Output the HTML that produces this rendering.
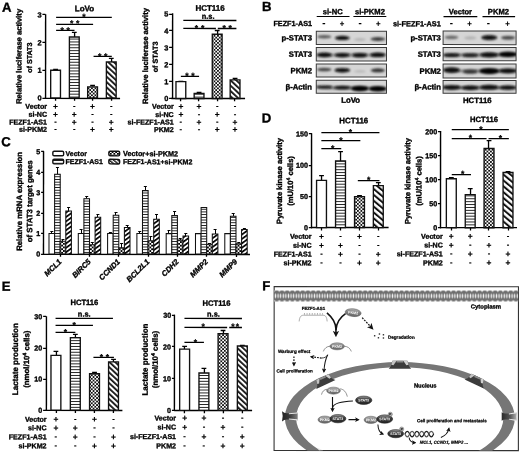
<!DOCTYPE html>
<html lang="en"><head><meta charset="utf-8"><title>Figure</title>
<style>
html,body{margin:0;padding:0;background:#fff;}
body{width:520px;height:454px;overflow:hidden;}
svg{display:block;font-family:"Liberation Sans", sans-serif;filter:blur(0.3px);}
</style></head><body>
<svg width="520" height="454" viewBox="0 0 520 454">
<defs>
<pattern id="ph" width="10" height="2.9" patternUnits="userSpaceOnUse"><rect width="10" height="2.9" fill="#fff"/><rect y="1.0" width="10" height="1.05" fill="#222" shape-rendering="crispEdges"/></pattern>
<pattern id="pc" width="3.5" height="3.5" patternUnits="userSpaceOnUse"><rect width="3.5" height="3.5" fill="#fff"/><rect width="1.75" height="1.75" fill="#111"/><rect x="1.75" y="1.75" width="1.75" height="1.75" fill="#111"/></pattern>
<pattern id="pd" width="4.7" height="4.7" patternUnits="userSpaceOnUse" patternTransform="rotate(-53)"><rect width="4.7" height="4.7" fill="#fff"/><rect width="2.0" height="4.7" fill="#111"/></pattern>
<pattern id="pdD" width="4.5" height="4.5" patternUnits="userSpaceOnUse" patternTransform="rotate(-50)"><rect width="4.5" height="4.5" fill="#fff"/><rect width="2.0" height="4.5" fill="#111"/></pattern>
<pattern id="pdE" width="3.9" height="3.9" patternUnits="userSpaceOnUse" patternTransform="rotate(-47)"><rect width="3.9" height="3.9" fill="#fff"/><rect width="1.8" height="3.9" fill="#111"/></pattern>
<pattern id="phs" width="10" height="2.7" patternUnits="userSpaceOnUse"><rect width="10" height="2.7" fill="#fff"/><rect y="0.8" width="10" height="1.1" fill="#111" shape-rendering="crispEdges"/></pattern>
<pattern id="pcs" width="3.6" height="3.6" patternUnits="userSpaceOnUse"><rect width="3.6" height="3.6" fill="#fff"/><rect width="1.8" height="1.8" fill="#000"/><rect x="1.8" y="1.8" width="1.8" height="1.8" fill="#000"/></pattern>
<pattern id="pds" width="3.56" height="3.56" patternUnits="userSpaceOnUse" patternTransform="rotate(54)"><rect width="3.56" height="3.56" fill="#fff"/><rect width="1.7" height="3.56" fill="#000"/></pattern>
<pattern id="pdl" width="2.8" height="2.8" patternUnits="userSpaceOnUse" patternTransform="rotate(-50)"><rect width="2.8" height="2.8" fill="#fff"/><rect width="1.4" height="2.8" fill="#111"/></pattern>
<filter id="bl" x="-30%" y="-80%" width="160%" height="260%"><feGaussianBlur stdDeviation="1.1 0.8"/></filter>
<filter id="bl2" x="-30%" y="-80%" width="160%" height="260%"><feGaussianBlur stdDeviation="0.5"/></filter>
<filter id="soft"><feGaussianBlur stdDeviation="0.35"/></filter>
<pattern id="mem" x="274.2" y="290.4" width="5.2" height="11" patternUnits="userSpaceOnUse">
<rect width="5.2" height="11" fill="#fff"/>
<rect y="1.8" width="5.2" height="7.4" fill="#7a7a7a"/>
<ellipse cx="2.6" cy="2.5" rx="2.75" ry="2.5" fill="#6e6e6e"/><ellipse cx="2.6" cy="8.5" rx="2.75" ry="2.5" fill="#6e6e6e"/>
<rect x="0.65" y="3.3" width="1.3" height="4.4" rx="0.65" fill="#f2f2f2"/><rect x="3.25" y="3.3" width="1.3" height="4.4" rx="0.65" fill="#f2f2f2"/>
</pattern>
<linearGradient id="gpl" x1="0" y1="0" x2="1" y2="0"><stop offset="0" stop-color="#222"/><stop offset="0.5" stop-color="#3a3a3a"/><stop offset="1" stop-color="#808080"/></linearGradient>
<linearGradient id="gpr" x1="0" y1="0" x2="1" y2="0"><stop offset="0" stop-color="#2a2a2a"/><stop offset="0.55" stop-color="#555"/><stop offset="1" stop-color="#b8b8b8"/></linearGradient>
<linearGradient id="gdark" x1="0" y1="0" x2="0" y2="1"><stop offset="0" stop-color="#a0a0a0"/><stop offset="0.4" stop-color="#3a3a3a"/><stop offset="1" stop-color="#262626"/></linearGradient>
<linearGradient id="gmid" x1="0" y1="0" x2="0" y2="1"><stop offset="0" stop-color="#b4b4b4"/><stop offset="0.5" stop-color="#7c7c7c"/><stop offset="1" stop-color="#686868"/></linearGradient>
<marker id="ahb" viewBox="0 0 10 10" refX="6" refY="5" markerWidth="6.4" markerHeight="6.4" markerUnits="userSpaceOnUse" orient="auto-start-reverse"><path d="M0 0 L10 5 L0 10 L2.5 5 z" fill="#111"/></marker>
<marker id="ah" viewBox="0 0 10 10" refX="7" refY="5" markerWidth="4.6" markerHeight="4.6" markerUnits="userSpaceOnUse" orient="auto-start-reverse"><path d="M0 0 L10 5 L0 10 L2.5 5 z" fill="#111"/></marker>
<clipPath id="fclip"><rect x="274.2" y="286.6" width="244.3" height="163.9"/></clipPath>
</defs>
<rect width="520" height="454" fill="#fff"/>
<g transform="rotate(0.03 260 227)">

<text x="1.90" y="11.80" font-size="13.2" text-anchor="start" font-weight="bold" fill="#000" stroke="#000" stroke-width="0.35" >A</text>
<text x="262.00" y="10.90" font-size="13.2" text-anchor="start" font-weight="bold" fill="#000" stroke="#000" stroke-width="0.35" >B</text>
<text x="1.30" y="146.40" font-size="13.2" text-anchor="start" font-weight="bold" fill="#000" stroke="#000" stroke-width="0.35" >C</text>
<text x="261.60" y="122.40" font-size="13.2" text-anchor="start" font-weight="bold" fill="#000" stroke="#000" stroke-width="0.35" >D</text>
<text x="1.80" y="290.80" font-size="13.2" text-anchor="start" font-weight="bold" fill="#000" stroke="#000" stroke-width="0.35" >E</text>
<text x="262.40" y="290.30" font-size="13.2" text-anchor="start" font-weight="bold" fill="#000" stroke="#000" stroke-width="0.35" >F</text>
<line x1="45.50" y1="14.39" x2="45.50" y2="98.65" stroke="#000" stroke-width="1.4" />
<line x1="44.60" y1="98.50" x2="120.00" y2="98.50" stroke="#000" stroke-width="1.4" />
<line x1="42.30" y1="98.50" x2="45.30" y2="98.50" stroke="#000" stroke-width="1.3" />
<text x="41.50" y="100.66" font-size="7.4" text-anchor="end" font-weight="bold" fill="#000" stroke="#000" stroke-width="0.333" >0</text>
<line x1="42.30" y1="70.50" x2="45.30" y2="70.50" stroke="#000" stroke-width="1.3" />
<text x="41.50" y="72.99" font-size="7.4" text-anchor="end" font-weight="bold" fill="#000" stroke="#000" stroke-width="0.333" >1</text>
<line x1="42.30" y1="42.50" x2="45.30" y2="42.50" stroke="#000" stroke-width="1.3" />
<text x="41.50" y="45.32" font-size="7.4" text-anchor="end" font-weight="bold" fill="#000" stroke="#000" stroke-width="0.333" >2</text>
<line x1="42.30" y1="14.50" x2="45.30" y2="14.50" stroke="#000" stroke-width="1.3" />
<text x="41.50" y="17.65" font-size="7.4" text-anchor="end" font-weight="bold" fill="#000" stroke="#000" stroke-width="0.333" >3</text>
<line x1="55.50" y1="70.33" x2="55.50" y2="69.22" stroke="#000" stroke-width="1.3" />
<line x1="53.10" y1="69.50" x2="57.90" y2="69.50" stroke="#000" stroke-width="1.3" />
<rect x="50.60" y="70.33" width="9.80" height="27.67" fill="#fff"/>
<rect x="50.60" y="70.33" width="9.80" height="27.67" fill="#fff" stroke="#111" stroke-width="1.35"/>
<line x1="55.50" y1="98.00" x2="55.50" y2="100.80" stroke="#000" stroke-width="1.3" />
<line x1="74.50" y1="37.13" x2="74.50" y2="32.70" stroke="#000" stroke-width="1.3" />
<line x1="71.80" y1="32.50" x2="76.60" y2="32.50" stroke="#000" stroke-width="1.3" />
<rect x="69.30" y="37.13" width="9.80" height="60.87" fill="#fff"/>
<rect x="69.30" y="37.13" width="9.80" height="60.87" fill="url(#ph)" stroke="#111" stroke-width="1.35"/>
<line x1="74.50" y1="98.00" x2="74.50" y2="100.80" stroke="#000" stroke-width="1.3" />
<line x1="92.50" y1="86.93" x2="92.50" y2="85.55" stroke="#000" stroke-width="1.3" />
<line x1="90.10" y1="85.50" x2="94.90" y2="85.50" stroke="#000" stroke-width="1.3" />
<rect x="87.60" y="86.93" width="9.80" height="11.07" fill="#fff"/>
<rect x="87.60" y="86.93" width="9.80" height="11.07" fill="url(#pc)" stroke="#111" stroke-width="1.35"/>
<line x1="92.50" y1="98.00" x2="92.50" y2="100.80" stroke="#000" stroke-width="1.3" />
<line x1="111.50" y1="62.03" x2="111.50" y2="58.71" stroke="#000" stroke-width="1.3" />
<line x1="108.80" y1="58.50" x2="113.60" y2="58.50" stroke="#000" stroke-width="1.3" />
<rect x="106.30" y="62.03" width="9.80" height="35.97" fill="#fff"/>
<rect x="106.30" y="62.03" width="9.80" height="35.97" fill="url(#pdE)" stroke="#111" stroke-width="1.35"/>
<line x1="111.50" y1="98.00" x2="111.50" y2="100.80" stroke="#000" stroke-width="1.3" />
<text x="84.40" y="11.40" font-size="8.0" text-anchor="middle" font-weight="bold" fill="#000" stroke="#000" stroke-width="0.36" >LoVo</text>
<line x1="56.00" y1="17.50" x2="111.70" y2="17.50" stroke="#000" stroke-width="1.3" />
<text x="83.85" y="19.76" font-size="8.6" text-anchor="middle" font-weight="bold" fill="#000" stroke="#000" stroke-width="0.22" >*</text>
<line x1="56.00" y1="24.50" x2="93.00" y2="24.50" stroke="#000" stroke-width="1.3" />
<text x="71.50" y="26.46" font-size="8.6" text-anchor="middle" font-weight="bold" fill="#000" stroke="#000" stroke-width="0.22" >*</text>
<text x="77.50" y="26.46" font-size="8.6" text-anchor="middle" font-weight="bold" fill="#000" stroke="#000" stroke-width="0.22" >*</text>
<line x1="56.00" y1="30.50" x2="74.40" y2="30.50" stroke="#000" stroke-width="1.3" />
<text x="62.20" y="33.26" font-size="8.6" text-anchor="middle" font-weight="bold" fill="#000" stroke="#000" stroke-width="0.22" >*</text>
<text x="68.20" y="33.26" font-size="8.6" text-anchor="middle" font-weight="bold" fill="#000" stroke="#000" stroke-width="0.22" >*</text>
<line x1="93.50" y1="56.50" x2="111.70" y2="56.50" stroke="#000" stroke-width="1.3" />
<text x="99.60" y="59.36" font-size="8.6" text-anchor="middle" font-weight="bold" fill="#000" stroke="#000" stroke-width="0.22" >*</text>
<text x="105.60" y="59.36" font-size="8.6" text-anchor="middle" font-weight="bold" fill="#000" stroke="#000" stroke-width="0.22" >*</text>
<text x="21.40" y="56.50" font-size="7.6" text-anchor="middle" font-weight="bold" fill="#000" stroke="#000" stroke-width="0.342" transform="rotate(-90 21.40 56.50)" textLength="95.00" lengthAdjust="spacingAndGlyphs" >Relative luciferase activity</text>
<text x="31.80" y="57.80" font-size="7.15" text-anchor="middle" font-weight="bold" fill="#000" stroke="#000" stroke-width="0.342" transform="rotate(-90 31.80 57.80)" textLength="30.30" lengthAdjust="spacingAndGlyphs" >of STAT3</text>
<text x="47.00" y="108.86" font-size="7.1" text-anchor="end" font-weight="bold" fill="#000" stroke="#000" stroke-width="0.319" >Vector</text>
<text x="55.50" y="109.26" font-size="8.4" text-anchor="middle" font-weight="bold" fill="#000" stroke="#000" stroke-width="0.2" >+</text>
<text x="74.20" y="108.59" font-size="7.6" text-anchor="middle" font-weight="bold" fill="#000" stroke="#000" stroke-width="0.15" >-</text>
<text x="92.50" y="109.26" font-size="8.4" text-anchor="middle" font-weight="bold" fill="#000" stroke="#000" stroke-width="0.2" >+</text>
<text x="111.20" y="108.59" font-size="7.6" text-anchor="middle" font-weight="bold" fill="#000" stroke="#000" stroke-width="0.15" >-</text>
<text x="47.00" y="116.96" font-size="7.1" text-anchor="end" font-weight="bold" fill="#000" stroke="#000" stroke-width="0.319" >si-NC</text>
<text x="55.50" y="117.36" font-size="8.4" text-anchor="middle" font-weight="bold" fill="#000" stroke="#000" stroke-width="0.2" >+</text>
<text x="74.20" y="117.36" font-size="8.4" text-anchor="middle" font-weight="bold" fill="#000" stroke="#000" stroke-width="0.2" >+</text>
<text x="92.50" y="116.69" font-size="7.6" text-anchor="middle" font-weight="bold" fill="#000" stroke="#000" stroke-width="0.15" >-</text>
<text x="111.20" y="116.69" font-size="7.6" text-anchor="middle" font-weight="bold" fill="#000" stroke="#000" stroke-width="0.15" >-</text>
<text x="47.00" y="124.66" font-size="7.1" text-anchor="end" font-weight="bold" fill="#000" stroke="#000" stroke-width="0.319" >FEZF1-AS1</text>
<text x="55.50" y="124.39" font-size="7.6" text-anchor="middle" font-weight="bold" fill="#000" stroke="#000" stroke-width="0.15" >-</text>
<text x="74.20" y="125.06" font-size="8.4" text-anchor="middle" font-weight="bold" fill="#000" stroke="#000" stroke-width="0.2" >+</text>
<text x="92.50" y="124.39" font-size="7.6" text-anchor="middle" font-weight="bold" fill="#000" stroke="#000" stroke-width="0.15" >-</text>
<text x="111.20" y="125.06" font-size="8.4" text-anchor="middle" font-weight="bold" fill="#000" stroke="#000" stroke-width="0.2" >+</text>
<text x="47.00" y="131.96" font-size="7.1" text-anchor="end" font-weight="bold" fill="#000" stroke="#000" stroke-width="0.319" >si-PKM2</text>
<text x="55.50" y="131.69" font-size="7.6" text-anchor="middle" font-weight="bold" fill="#000" stroke="#000" stroke-width="0.15" >-</text>
<text x="74.20" y="131.69" font-size="7.6" text-anchor="middle" font-weight="bold" fill="#000" stroke="#000" stroke-width="0.15" >-</text>
<text x="92.50" y="132.36" font-size="8.4" text-anchor="middle" font-weight="bold" fill="#000" stroke="#000" stroke-width="0.2" >+</text>
<text x="111.20" y="132.36" font-size="8.4" text-anchor="middle" font-weight="bold" fill="#000" stroke="#000" stroke-width="0.2" >+</text>
<line x1="172.50" y1="13.40" x2="172.50" y2="99.15" stroke="#000" stroke-width="1.4" />
<line x1="171.30" y1="98.50" x2="245.00" y2="98.50" stroke="#000" stroke-width="1.4" />
<line x1="169.00" y1="98.50" x2="172.00" y2="98.50" stroke="#000" stroke-width="1.3" />
<text x="168.20" y="101.16" font-size="7.4" text-anchor="end" font-weight="bold" fill="#000" stroke="#000" stroke-width="0.333" >0</text>
<line x1="169.00" y1="81.50" x2="172.00" y2="81.50" stroke="#000" stroke-width="1.3" />
<text x="168.20" y="84.26" font-size="7.4" text-anchor="end" font-weight="bold" fill="#000" stroke="#000" stroke-width="0.333" >1</text>
<line x1="169.00" y1="64.50" x2="172.00" y2="64.50" stroke="#000" stroke-width="1.3" />
<text x="168.20" y="67.36" font-size="7.4" text-anchor="end" font-weight="bold" fill="#000" stroke="#000" stroke-width="0.333" >2</text>
<line x1="169.00" y1="47.50" x2="172.00" y2="47.50" stroke="#000" stroke-width="1.3" />
<text x="168.20" y="50.46" font-size="7.4" text-anchor="end" font-weight="bold" fill="#000" stroke="#000" stroke-width="0.333" >3</text>
<line x1="169.00" y1="30.50" x2="172.00" y2="30.50" stroke="#000" stroke-width="1.3" />
<text x="168.20" y="33.56" font-size="7.4" text-anchor="end" font-weight="bold" fill="#000" stroke="#000" stroke-width="0.333" >4</text>
<line x1="169.00" y1="14.50" x2="172.00" y2="14.50" stroke="#000" stroke-width="1.3" />
<text x="168.20" y="16.66" font-size="7.4" text-anchor="end" font-weight="bold" fill="#000" stroke="#000" stroke-width="0.333" >5</text>
<line x1="180.50" y1="81.60" x2="180.50" y2="81.09" stroke="#000" stroke-width="1.3" />
<line x1="178.40" y1="81.50" x2="183.20" y2="81.50" stroke="#000" stroke-width="1.3" />
<rect x="175.90" y="81.60" width="9.80" height="16.90" fill="#fff"/>
<rect x="175.90" y="81.60" width="9.80" height="16.90" fill="#fff" stroke="#111" stroke-width="1.35"/>
<line x1="180.50" y1="98.50" x2="180.50" y2="101.30" stroke="#000" stroke-width="1.3" />
<line x1="198.50" y1="93.43" x2="198.50" y2="92.42" stroke="#000" stroke-width="1.3" />
<line x1="196.60" y1="92.50" x2="201.40" y2="92.50" stroke="#000" stroke-width="1.3" />
<rect x="194.10" y="93.43" width="9.80" height="5.07" fill="#fff"/>
<rect x="194.10" y="93.43" width="9.80" height="5.07" fill="url(#ph)" stroke="#111" stroke-width="1.35"/>
<line x1="198.50" y1="98.50" x2="198.50" y2="101.30" stroke="#000" stroke-width="1.3" />
<line x1="217.50" y1="34.28" x2="217.50" y2="30.56" stroke="#000" stroke-width="1.3" />
<line x1="214.70" y1="30.50" x2="219.50" y2="30.50" stroke="#000" stroke-width="1.3" />
<rect x="212.20" y="34.28" width="9.80" height="64.22" fill="#fff"/>
<rect x="212.20" y="34.28" width="9.80" height="64.22" fill="url(#pc)" stroke="#111" stroke-width="1.35"/>
<line x1="217.50" y1="98.50" x2="217.50" y2="101.30" stroke="#000" stroke-width="1.3" />
<line x1="234.50" y1="79.91" x2="234.50" y2="78.73" stroke="#000" stroke-width="1.3" />
<line x1="232.60" y1="78.50" x2="237.40" y2="78.50" stroke="#000" stroke-width="1.3" />
<rect x="230.10" y="79.91" width="9.80" height="18.59" fill="#fff"/>
<rect x="230.10" y="79.91" width="9.80" height="18.59" fill="url(#pdE)" stroke="#111" stroke-width="1.35"/>
<line x1="234.50" y1="98.50" x2="234.50" y2="101.30" stroke="#000" stroke-width="1.3" />
<text x="210.00" y="10.90" font-size="8.0" text-anchor="middle" font-weight="bold" fill="#000" stroke="#000" stroke-width="0.36" >HCT116</text>
<line x1="183.20" y1="20.50" x2="236.30" y2="20.50" stroke="#000" stroke-width="1.3" />
<text x="208.00" y="18.70" font-size="7.4" text-anchor="middle" font-weight="bold" fill="#000" stroke="#000" stroke-width="0.333" >n.s.</text>
<line x1="183.20" y1="28.50" x2="215.80" y2="28.50" stroke="#000" stroke-width="1.3" />
<line x1="217.70" y1="28.50" x2="236.30" y2="28.50" stroke="#000" stroke-width="1.3" />
<text x="196.30" y="31.06" font-size="8.6" text-anchor="middle" font-weight="bold" fill="#000" stroke="#000" stroke-width="0.22" >*</text>
<text x="202.50" y="31.06" font-size="8.6" text-anchor="middle" font-weight="bold" fill="#000" stroke="#000" stroke-width="0.22" >*</text>
<text x="224.20" y="31.06" font-size="8.6" text-anchor="middle" font-weight="bold" fill="#000" stroke="#000" stroke-width="0.22" >*</text>
<text x="230.20" y="31.06" font-size="8.6" text-anchor="middle" font-weight="bold" fill="#000" stroke="#000" stroke-width="0.22" >*</text>
<line x1="180.80" y1="76.50" x2="199.00" y2="76.50" stroke="#000" stroke-width="1.3" />
<text x="186.90" y="78.86" font-size="8.6" text-anchor="middle" font-weight="bold" fill="#000" stroke="#000" stroke-width="0.22" >*</text>
<text x="192.90" y="78.86" font-size="8.6" text-anchor="middle" font-weight="bold" fill="#000" stroke="#000" stroke-width="0.22" >*</text>
<text x="148.00" y="56.00" font-size="7.68" text-anchor="middle" font-weight="bold" fill="#000" stroke="#000" stroke-width="0.342" transform="rotate(-90 148.00 56.00)" textLength="96.00" lengthAdjust="spacingAndGlyphs" >Relative luciferase activity</text>
<text x="157.60" y="57.00" font-size="7.26" text-anchor="middle" font-weight="bold" fill="#000" stroke="#000" stroke-width="0.342" transform="rotate(-90 157.60 57.00)" textLength="30.80" lengthAdjust="spacingAndGlyphs" >of STAT3</text>
<text x="173.70" y="108.86" font-size="7.1" text-anchor="end" font-weight="bold" fill="#000" stroke="#000" stroke-width="0.319" >Vector</text>
<text x="180.80" y="109.26" font-size="8.4" text-anchor="middle" font-weight="bold" fill="#000" stroke="#000" stroke-width="0.2" >+</text>
<text x="199.00" y="109.26" font-size="8.4" text-anchor="middle" font-weight="bold" fill="#000" stroke="#000" stroke-width="0.2" >+</text>
<text x="217.10" y="108.59" font-size="7.6" text-anchor="middle" font-weight="bold" fill="#000" stroke="#000" stroke-width="0.15" >-</text>
<text x="235.00" y="108.59" font-size="7.6" text-anchor="middle" font-weight="bold" fill="#000" stroke="#000" stroke-width="0.15" >-</text>
<text x="173.70" y="116.96" font-size="7.1" text-anchor="end" font-weight="bold" fill="#000" stroke="#000" stroke-width="0.319" >si-NC</text>
<text x="180.80" y="117.36" font-size="8.4" text-anchor="middle" font-weight="bold" fill="#000" stroke="#000" stroke-width="0.2" >+</text>
<text x="199.00" y="116.69" font-size="7.6" text-anchor="middle" font-weight="bold" fill="#000" stroke="#000" stroke-width="0.15" >-</text>
<text x="217.10" y="117.36" font-size="8.4" text-anchor="middle" font-weight="bold" fill="#000" stroke="#000" stroke-width="0.2" >+</text>
<text x="235.00" y="116.69" font-size="7.6" text-anchor="middle" font-weight="bold" fill="#000" stroke="#000" stroke-width="0.15" >-</text>
<text x="173.70" y="124.66" font-size="7.1" text-anchor="end" font-weight="bold" fill="#000" stroke="#000" stroke-width="0.319" >si-FEZF1-AS1</text>
<text x="180.80" y="124.39" font-size="7.6" text-anchor="middle" font-weight="bold" fill="#000" stroke="#000" stroke-width="0.15" >-</text>
<text x="199.00" y="125.06" font-size="8.4" text-anchor="middle" font-weight="bold" fill="#000" stroke="#000" stroke-width="0.2" >+</text>
<text x="217.10" y="124.39" font-size="7.6" text-anchor="middle" font-weight="bold" fill="#000" stroke="#000" stroke-width="0.15" >-</text>
<text x="235.00" y="125.06" font-size="8.4" text-anchor="middle" font-weight="bold" fill="#000" stroke="#000" stroke-width="0.2" >+</text>
<text x="173.70" y="131.96" font-size="7.1" text-anchor="end" font-weight="bold" fill="#000" stroke="#000" stroke-width="0.319" >PKM2</text>
<text x="180.80" y="131.69" font-size="7.6" text-anchor="middle" font-weight="bold" fill="#000" stroke="#000" stroke-width="0.15" >-</text>
<text x="199.00" y="131.69" font-size="7.6" text-anchor="middle" font-weight="bold" fill="#000" stroke="#000" stroke-width="0.15" >-</text>
<text x="217.10" y="132.36" font-size="8.4" text-anchor="middle" font-weight="bold" fill="#000" stroke="#000" stroke-width="0.2" >+</text>
<text x="235.00" y="132.36" font-size="8.4" text-anchor="middle" font-weight="bold" fill="#000" stroke="#000" stroke-width="0.2" >+</text>
<clipPath id="bc316_0"><rect x="316.2" y="31.3" width="70.20" height="13.20"/></clipPath>
<clipPath id="bc316_1"><rect x="316.2" y="47.4" width="70.20" height="13.50"/></clipPath>
<clipPath id="bc316_2"><rect x="316.2" y="64.0" width="70.20" height="13.00"/></clipPath>
<clipPath id="bc316_3"><rect x="316.2" y="80.3" width="70.20" height="12.90"/></clipPath>
<rect x="316.2" y="31.3" width="70.20" height="13.20" fill="#d6d6d6" stroke="#3a3a3a" stroke-width="1"/>
<rect x="316.2" y="47.4" width="70.20" height="13.50" fill="#d6d6d6" stroke="#3a3a3a" stroke-width="1"/>
<rect x="316.2" y="64.0" width="70.20" height="13.00" fill="#d6d6d6" stroke="#3a3a3a" stroke-width="1"/>
<rect x="316.2" y="80.3" width="70.20" height="12.90" fill="#d6d6d6" stroke="#3a3a3a" stroke-width="1"/>
<g clip-path="url(#bc316_0)">
<ellipse cx="324.2" cy="36.8" rx="7.0" ry="1.7" fill="#5a5a5a" filter="url(#bl)"/>
<ellipse cx="342.2" cy="37.9" rx="7.5" ry="2.1" fill="#111" filter="url(#bl)"/>
<ellipse cx="359.8" cy="39.5" rx="6.0" ry="1.4" fill="#b4b4b4" filter="url(#bl)"/>
<ellipse cx="377.8" cy="39.0" rx="7.3" ry="1.9" fill="#3a3a3a" filter="url(#bl)"/>
</g>
<g clip-path="url(#bc316_1)">
<ellipse cx="351.3" cy="55.0" rx="33.1" ry="1.7" fill="#444" opacity="0.45" filter="url(#bl)"/>
<ellipse cx="324.2" cy="54.9" rx="7.8" ry="2.3" fill="#111" filter="url(#bl)"/>
<ellipse cx="342.2" cy="55.1" rx="7.8" ry="2.1" fill="#111" filter="url(#bl)"/>
<ellipse cx="359.8" cy="55.1" rx="7.8" ry="2.2" fill="#111" filter="url(#bl)"/>
<ellipse cx="377.8" cy="54.8" rx="8.0" ry="2.3" fill="#0a0a0a" filter="url(#bl)"/>
</g>
<g clip-path="url(#bc316_2)">
<ellipse cx="324.2" cy="69.5" rx="7.2" ry="1.7" fill="#444" filter="url(#bl)"/>
<ellipse cx="342.2" cy="70.2" rx="7.8" ry="2.3" fill="#0a0a0a" filter="url(#bl)"/>
<ellipse cx="359.8" cy="71.3" rx="6.0" ry="1.3" fill="#b8b8b8" filter="url(#bl)"/>
<ellipse cx="377.8" cy="70.3" rx="7.2" ry="2.0" fill="#333" filter="url(#bl)"/>
</g>
<g clip-path="url(#bc316_3)">
<ellipse cx="351.3" cy="88.0" rx="33.1" ry="1.7" fill="#444" opacity="0.5" filter="url(#bl)"/>
<ellipse cx="324.2" cy="87.0" rx="8.6" ry="1.6" fill="#111" filter="url(#bl)"/>
<ellipse cx="342.2" cy="87.5" rx="8.6" ry="1.7" fill="#111" filter="url(#bl)"/>
<ellipse cx="359.8" cy="88.5" rx="8.8" ry="2.7" fill="#050505" filter="url(#bl)"/>
<ellipse cx="377.8" cy="88.8" rx="9.0" ry="2.8" fill="#050505" filter="url(#bl)"/>
</g>
<text x="332.60" y="14.20" font-size="7.6" text-anchor="middle" font-weight="bold" fill="#000" stroke="#000" stroke-width="0.342" >si-NC</text>
<text x="369.80" y="14.20" font-size="7.6" text-anchor="middle" font-weight="bold" fill="#000" stroke="#000" stroke-width="0.342" >si-PKM2</text>
<line x1="316.60" y1="16.50" x2="349.40" y2="16.50" stroke="#000" stroke-width="1.1" />
<line x1="353.30" y1="16.50" x2="386.20" y2="16.50" stroke="#000" stroke-width="1.1" />
<text x="311.90" y="26.10" font-size="7.24" text-anchor="end" font-weight="bold" fill="#000" stroke="#000" stroke-width="0.324" textLength="38.60" lengthAdjust="spacingAndGlyphs" >FEZF1-AS1</text>
<text x="323.80" y="25.92" font-size="9.6" text-anchor="middle" font-weight="bold" fill="#000" stroke="#000" stroke-width="0.1" >-</text>
<text x="342.00" y="26.15" font-size="7.8" text-anchor="middle" font-weight="bold" fill="#000" stroke="#000" stroke-width="0.2" >+</text>
<text x="360.00" y="25.92" font-size="9.6" text-anchor="middle" font-weight="bold" fill="#000" stroke="#000" stroke-width="0.1" >-</text>
<text x="378.30" y="26.15" font-size="7.8" text-anchor="middle" font-weight="bold" fill="#000" stroke="#000" stroke-width="0.2" >+</text>
<text x="311.90" y="40.60" font-size="7.7" text-anchor="end" font-weight="bold" fill="#000" stroke="#000" stroke-width="0.346" >p-STAT3</text>
<text x="311.90" y="56.85" font-size="7.7" text-anchor="end" font-weight="bold" fill="#000" stroke="#000" stroke-width="0.346" >STAT3</text>
<text x="311.90" y="73.20" font-size="7.7" text-anchor="end" font-weight="bold" fill="#000" stroke="#000" stroke-width="0.346" >PKM2</text>
<text x="311.90" y="89.45" font-size="7.7" text-anchor="end" font-weight="bold" fill="#000" stroke="#000" stroke-width="0.346" >β-Actin</text>
<text x="350.60" y="102.80" font-size="7.8" text-anchor="middle" font-weight="bold" fill="#000" stroke="#000" stroke-width="0.351" >LoVo</text>
<clipPath id="bc443_0"><rect x="443.0" y="30.9" width="73.00" height="13.60"/></clipPath>
<clipPath id="bc443_1"><rect x="443.0" y="47.4" width="73.00" height="13.20"/></clipPath>
<clipPath id="bc443_2"><rect x="443.0" y="63.9" width="73.00" height="14.00"/></clipPath>
<clipPath id="bc443_3"><rect x="443.0" y="80.3" width="73.00" height="12.90"/></clipPath>
<rect x="443.0" y="30.9" width="73.00" height="13.60" fill="#d6d6d6" stroke="#3a3a3a" stroke-width="1"/>
<rect x="443.0" y="47.4" width="73.00" height="13.20" fill="#d6d6d6" stroke="#3a3a3a" stroke-width="1"/>
<rect x="443.0" y="63.9" width="73.00" height="14.00" fill="#d6d6d6" stroke="#3a3a3a" stroke-width="1"/>
<rect x="443.0" y="80.3" width="73.00" height="12.90" fill="#d6d6d6" stroke="#3a3a3a" stroke-width="1"/>
<g clip-path="url(#bc443_0)">
<ellipse cx="451.4" cy="37.3" rx="6.8" ry="1.8" fill="#666" filter="url(#bl)"/>
<ellipse cx="470.2" cy="37.9" rx="6.0" ry="1.6" fill="#b0b0b0" filter="url(#bl)"/>
<ellipse cx="489.2" cy="37.5" rx="8.0" ry="2.4" fill="#080808" filter="url(#bl)"/>
<ellipse cx="508.0" cy="37.7" rx="7.0" ry="1.9" fill="#444" filter="url(#bl)"/>
</g>
<g clip-path="url(#bc443_1)">
<ellipse cx="479.5" cy="54.9" rx="34.5" ry="1.7" fill="#444" opacity="0.55" filter="url(#bl)"/>
<ellipse cx="451.4" cy="55.0" rx="8.8" ry="2.0" fill="#151515" filter="url(#bl)"/>
<ellipse cx="470.2" cy="55.2" rx="8.2" ry="1.9" fill="#1a1a1a" filter="url(#bl)"/>
<ellipse cx="489.2" cy="54.8" rx="9.2" ry="2.5" fill="#0a0a0a" filter="url(#bl)"/>
<ellipse cx="508.0" cy="54.2" rx="9.6" ry="2.8" fill="#050505" filter="url(#bl)"/>
</g>
<g clip-path="url(#bc443_2)">
<ellipse cx="479.5" cy="70.9" rx="34.5" ry="1.7" fill="#444" opacity="0.55" filter="url(#bl)"/>
<ellipse cx="451.4" cy="70.0" rx="8.4" ry="2.7" fill="#0a0a0a" filter="url(#bl)"/>
<ellipse cx="470.2" cy="71.5" rx="7.4" ry="2.0" fill="#333" filter="url(#bl)"/>
<ellipse cx="489.2" cy="70.9" rx="10.0" ry="3.0" fill="#050505" filter="url(#bl)"/>
<ellipse cx="508.0" cy="70.7" rx="9.4" ry="2.5" fill="#111" filter="url(#bl)"/>
</g>
<g clip-path="url(#bc443_3)">
<ellipse cx="479.5" cy="87.5" rx="34.5" ry="1.7" fill="#444" opacity="0.6" filter="url(#bl)"/>
<ellipse cx="451.4" cy="87.3" rx="9.4" ry="2.4" fill="#0a0a0a" filter="url(#bl)"/>
<ellipse cx="470.2" cy="87.8" rx="9.0" ry="2.2" fill="#111" filter="url(#bl)"/>
<ellipse cx="489.2" cy="87.2" rx="9.4" ry="2.4" fill="#0a0a0a" filter="url(#bl)"/>
<ellipse cx="508.0" cy="87.5" rx="9.2" ry="2.2" fill="#111" filter="url(#bl)"/>
</g>
<text x="460.30" y="14.20" font-size="7.6" text-anchor="middle" font-weight="bold" fill="#000" stroke="#000" stroke-width="0.342" >Vector</text>
<text x="498.30" y="14.20" font-size="7.6" text-anchor="middle" font-weight="bold" fill="#000" stroke="#000" stroke-width="0.342" >PKM2</text>
<line x1="443.40" y1="16.50" x2="477.20" y2="16.50" stroke="#000" stroke-width="1.1" />
<line x1="482.40" y1="16.50" x2="515.00" y2="16.50" stroke="#000" stroke-width="1.1" />
<text x="440.80" y="26.10" font-size="7.38" text-anchor="end" font-weight="bold" fill="#000" stroke="#000" stroke-width="0.324" textLength="48.00" lengthAdjust="spacingAndGlyphs" >si-FEZF1-AS1</text>
<text x="451.20" y="25.92" font-size="9.6" text-anchor="middle" font-weight="bold" fill="#000" stroke="#000" stroke-width="0.1" >-</text>
<text x="469.40" y="26.15" font-size="7.8" text-anchor="middle" font-weight="bold" fill="#000" stroke="#000" stroke-width="0.2" >+</text>
<text x="488.30" y="25.92" font-size="9.6" text-anchor="middle" font-weight="bold" fill="#000" stroke="#000" stroke-width="0.1" >-</text>
<text x="507.50" y="26.15" font-size="7.8" text-anchor="middle" font-weight="bold" fill="#000" stroke="#000" stroke-width="0.2" >+</text>
<text x="440.80" y="40.40" font-size="7.7" text-anchor="end" font-weight="bold" fill="#000" stroke="#000" stroke-width="0.346" >p-STAT3</text>
<text x="440.80" y="56.70" font-size="7.7" text-anchor="end" font-weight="bold" fill="#000" stroke="#000" stroke-width="0.346" >STAT3</text>
<text x="440.80" y="73.60" font-size="7.7" text-anchor="end" font-weight="bold" fill="#000" stroke="#000" stroke-width="0.346" >PKM2</text>
<text x="440.80" y="89.45" font-size="7.7" text-anchor="end" font-weight="bold" fill="#000" stroke="#000" stroke-width="0.346" >β-Actin</text>
<text x="477.20" y="102.80" font-size="7.8" text-anchor="middle" font-weight="bold" fill="#000" stroke="#000" stroke-width="0.351" >HCT116</text>
<line x1="43.50" y1="151.25" x2="43.50" y2="254.75" stroke="#000" stroke-width="1.4" />
<line x1="43.20" y1="254.50" x2="250.00" y2="254.50" stroke="#000" stroke-width="1.4" />
<line x1="41.10" y1="254.50" x2="43.90" y2="254.50" stroke="#000" stroke-width="1.3" />
<text x="40.30" y="256.69" font-size="7.2" text-anchor="end" font-weight="bold" fill="#000" stroke="#000" stroke-width="0.324" >0</text>
<line x1="41.10" y1="233.50" x2="43.90" y2="233.50" stroke="#000" stroke-width="1.3" />
<text x="40.30" y="236.24" font-size="7.2" text-anchor="end" font-weight="bold" fill="#000" stroke="#000" stroke-width="0.324" >1</text>
<line x1="41.10" y1="213.50" x2="43.90" y2="213.50" stroke="#000" stroke-width="1.3" />
<text x="40.30" y="215.79" font-size="7.2" text-anchor="end" font-weight="bold" fill="#000" stroke="#000" stroke-width="0.324" >2</text>
<line x1="41.10" y1="192.50" x2="43.90" y2="192.50" stroke="#000" stroke-width="1.3" />
<text x="40.30" y="195.34" font-size="7.2" text-anchor="end" font-weight="bold" fill="#000" stroke="#000" stroke-width="0.324" >3</text>
<line x1="41.10" y1="172.50" x2="43.90" y2="172.50" stroke="#000" stroke-width="1.3" />
<text x="40.30" y="174.89" font-size="7.2" text-anchor="end" font-weight="bold" fill="#000" stroke="#000" stroke-width="0.324" >4</text>
<line x1="41.10" y1="151.50" x2="43.90" y2="151.50" stroke="#000" stroke-width="1.3" />
<text x="40.30" y="154.44" font-size="7.2" text-anchor="end" font-weight="bold" fill="#000" stroke="#000" stroke-width="0.324" >5</text>
<line x1="51.50" y1="233.65" x2="51.50" y2="231.20" stroke="#000" stroke-width="1.0" />
<line x1="50.30" y1="231.50" x2="53.30" y2="231.50" stroke="#000" stroke-width="1.0" />
<rect x="49.00" y="233.65" width="5.60" height="20.45" fill="#fff"/>
<rect x="49.00" y="233.65" width="5.60" height="20.45" fill="#fff" stroke="#111" stroke-width="1.05"/>
<line x1="57.50" y1="174.34" x2="57.50" y2="167.80" stroke="#000" stroke-width="1.0" />
<line x1="55.90" y1="167.50" x2="58.90" y2="167.50" stroke="#000" stroke-width="1.0" />
<rect x="54.60" y="174.34" width="5.60" height="79.75" fill="#fff"/>
<rect x="54.60" y="174.34" width="5.60" height="79.75" fill="url(#phs)" stroke="#111" stroke-width="1.05"/>
<line x1="62.50" y1="241.42" x2="62.50" y2="239.38" stroke="#000" stroke-width="1.0" />
<line x1="61.50" y1="239.50" x2="64.50" y2="239.50" stroke="#000" stroke-width="1.0" />
<rect x="60.20" y="241.42" width="5.60" height="12.68" fill="#fff"/>
<rect x="60.20" y="241.42" width="5.60" height="12.68" fill="url(#pcs)" stroke="#111" stroke-width="1.05"/>
<line x1="68.50" y1="211.16" x2="68.50" y2="207.68" stroke="#000" stroke-width="1.0" />
<line x1="67.10" y1="207.50" x2="70.10" y2="207.50" stroke="#000" stroke-width="1.0" />
<rect x="65.80" y="211.16" width="5.60" height="42.94" fill="#fff"/>
<rect x="65.80" y="211.16" width="5.60" height="42.94" fill="url(#pds)" stroke="#111" stroke-width="1.05"/>
<line x1="60.50" y1="254.10" x2="60.50" y2="256.90" stroke="#000" stroke-width="1.3" />
<text x="62.00" y="262.30" font-size="7.6" text-anchor="end" font-weight="bold" fill="#000" stroke="#000" stroke-width="0.342" transform="rotate(-45 62.00 262.30)" font-style="italic" >MCL1</text>
<line x1="81.50" y1="233.65" x2="81.50" y2="229.56" stroke="#000" stroke-width="1.0" />
<line x1="79.60" y1="229.50" x2="82.60" y2="229.50" stroke="#000" stroke-width="1.0" />
<rect x="78.30" y="233.65" width="5.60" height="20.45" fill="#fff"/>
<rect x="78.30" y="233.65" width="5.60" height="20.45" fill="#fff" stroke="#111" stroke-width="1.05"/>
<line x1="86.50" y1="198.88" x2="86.50" y2="196.84" stroke="#000" stroke-width="1.0" />
<line x1="85.20" y1="196.50" x2="88.20" y2="196.50" stroke="#000" stroke-width="1.0" />
<rect x="83.90" y="198.88" width="5.60" height="55.22" fill="#fff"/>
<rect x="83.90" y="198.88" width="5.60" height="55.22" fill="url(#phs)" stroke="#111" stroke-width="1.05"/>
<line x1="92.50" y1="244.90" x2="92.50" y2="242.85" stroke="#000" stroke-width="1.0" />
<line x1="90.80" y1="242.50" x2="93.80" y2="242.50" stroke="#000" stroke-width="1.0" />
<rect x="89.50" y="244.90" width="5.60" height="9.20" fill="#fff"/>
<rect x="89.50" y="244.90" width="5.60" height="9.20" fill="url(#pcs)" stroke="#111" stroke-width="1.05"/>
<line x1="97.50" y1="217.29" x2="97.50" y2="214.22" stroke="#000" stroke-width="1.0" />
<line x1="96.40" y1="214.50" x2="99.40" y2="214.50" stroke="#000" stroke-width="1.0" />
<rect x="95.10" y="217.29" width="5.60" height="36.81" fill="#fff"/>
<rect x="95.10" y="217.29" width="5.60" height="36.81" fill="url(#pds)" stroke="#111" stroke-width="1.05"/>
<line x1="89.50" y1="254.10" x2="89.50" y2="256.90" stroke="#000" stroke-width="1.3" />
<text x="91.30" y="262.30" font-size="7.6" text-anchor="end" font-weight="bold" fill="#000" stroke="#000" stroke-width="0.342" transform="rotate(-45 91.30 262.30)" font-style="italic" >BIRC5</text>
<line x1="110.50" y1="233.65" x2="110.50" y2="232.01" stroke="#000" stroke-width="1.0" />
<line x1="108.90" y1="232.50" x2="111.90" y2="232.50" stroke="#000" stroke-width="1.0" />
<rect x="107.60" y="233.65" width="5.60" height="20.45" fill="#fff"/>
<rect x="107.60" y="233.65" width="5.60" height="20.45" fill="#fff" stroke="#111" stroke-width="1.05"/>
<line x1="115.50" y1="215.25" x2="115.50" y2="212.59" stroke="#000" stroke-width="1.0" />
<line x1="114.50" y1="212.50" x2="117.50" y2="212.50" stroke="#000" stroke-width="1.0" />
<rect x="113.20" y="215.25" width="5.60" height="38.85" fill="#fff"/>
<rect x="113.20" y="215.25" width="5.60" height="38.85" fill="url(#phs)" stroke="#111" stroke-width="1.05"/>
<line x1="121.50" y1="247.97" x2="121.50" y2="243.47" stroke="#000" stroke-width="1.0" />
<line x1="120.10" y1="243.50" x2="123.10" y2="243.50" stroke="#000" stroke-width="1.0" />
<rect x="118.80" y="247.97" width="5.60" height="6.13" fill="#fff"/>
<rect x="118.80" y="247.97" width="5.60" height="6.13" fill="url(#pcs)" stroke="#111" stroke-width="1.05"/>
<line x1="127.50" y1="227.51" x2="127.50" y2="225.88" stroke="#000" stroke-width="1.0" />
<line x1="125.70" y1="225.50" x2="128.70" y2="225.50" stroke="#000" stroke-width="1.0" />
<rect x="124.40" y="227.51" width="5.60" height="26.59" fill="#fff"/>
<rect x="124.40" y="227.51" width="5.60" height="26.59" fill="url(#pds)" stroke="#111" stroke-width="1.05"/>
<line x1="118.50" y1="254.10" x2="118.50" y2="256.90" stroke="#000" stroke-width="1.3" />
<text x="120.60" y="262.30" font-size="7.6" text-anchor="end" font-weight="bold" fill="#000" stroke="#000" stroke-width="0.342" transform="rotate(-45 120.60 262.30)" font-style="italic" >CCND1</text>
<line x1="139.50" y1="233.65" x2="139.50" y2="231.60" stroke="#000" stroke-width="1.0" />
<line x1="138.20" y1="231.50" x2="141.20" y2="231.50" stroke="#000" stroke-width="1.0" />
<rect x="136.90" y="233.65" width="5.60" height="20.45" fill="#fff"/>
<rect x="136.90" y="233.65" width="5.60" height="20.45" fill="#fff" stroke="#111" stroke-width="1.05"/>
<line x1="145.50" y1="190.70" x2="145.50" y2="186.21" stroke="#000" stroke-width="1.0" />
<line x1="143.80" y1="186.50" x2="146.80" y2="186.50" stroke="#000" stroke-width="1.0" />
<rect x="142.50" y="190.70" width="5.60" height="63.40" fill="#fff"/>
<rect x="142.50" y="190.70" width="5.60" height="63.40" fill="url(#phs)" stroke="#111" stroke-width="1.05"/>
<line x1="150.50" y1="240.81" x2="150.50" y2="236.72" stroke="#000" stroke-width="1.0" />
<line x1="149.40" y1="236.50" x2="152.40" y2="236.50" stroke="#000" stroke-width="1.0" />
<rect x="148.10" y="240.81" width="5.60" height="13.29" fill="#fff"/>
<rect x="148.10" y="240.81" width="5.60" height="13.29" fill="url(#pcs)" stroke="#111" stroke-width="1.05"/>
<line x1="156.50" y1="219.33" x2="156.50" y2="214.22" stroke="#000" stroke-width="1.0" />
<line x1="155.00" y1="214.50" x2="158.00" y2="214.50" stroke="#000" stroke-width="1.0" />
<rect x="153.70" y="219.33" width="5.60" height="34.77" fill="#fff"/>
<rect x="153.70" y="219.33" width="5.60" height="34.77" fill="url(#pds)" stroke="#111" stroke-width="1.05"/>
<line x1="148.50" y1="254.10" x2="148.50" y2="256.90" stroke="#000" stroke-width="1.3" />
<text x="149.90" y="262.30" font-size="7.6" text-anchor="end" font-weight="bold" fill="#000" stroke="#000" stroke-width="0.342" transform="rotate(-45 149.90 262.30)" font-style="italic" >BCL2L1</text>
<line x1="168.50" y1="233.65" x2="168.50" y2="230.58" stroke="#000" stroke-width="1.0" />
<line x1="167.50" y1="230.50" x2="170.50" y2="230.50" stroke="#000" stroke-width="1.0" />
<rect x="166.20" y="233.65" width="5.60" height="20.45" fill="#fff"/>
<rect x="166.20" y="233.65" width="5.60" height="20.45" fill="#fff" stroke="#111" stroke-width="1.05"/>
<line x1="174.50" y1="215.65" x2="174.50" y2="211.16" stroke="#000" stroke-width="1.0" />
<line x1="173.10" y1="211.50" x2="176.10" y2="211.50" stroke="#000" stroke-width="1.0" />
<rect x="171.80" y="215.65" width="5.60" height="38.45" fill="#fff"/>
<rect x="171.80" y="215.65" width="5.60" height="38.45" fill="url(#phs)" stroke="#111" stroke-width="1.05"/>
<line x1="180.50" y1="240.19" x2="180.50" y2="238.76" stroke="#000" stroke-width="1.0" />
<line x1="178.70" y1="238.50" x2="181.70" y2="238.50" stroke="#000" stroke-width="1.0" />
<rect x="177.40" y="240.19" width="5.60" height="13.91" fill="#fff"/>
<rect x="177.40" y="240.19" width="5.60" height="13.91" fill="url(#pcs)" stroke="#111" stroke-width="1.05"/>
<line x1="185.50" y1="236.10" x2="185.50" y2="233.65" stroke="#000" stroke-width="1.0" />
<line x1="184.30" y1="233.50" x2="187.30" y2="233.50" stroke="#000" stroke-width="1.0" />
<rect x="183.00" y="236.10" width="5.60" height="18.00" fill="#fff"/>
<rect x="183.00" y="236.10" width="5.60" height="18.00" fill="url(#pds)" stroke="#111" stroke-width="1.05"/>
<line x1="177.50" y1="254.10" x2="177.50" y2="256.90" stroke="#000" stroke-width="1.3" />
<text x="179.20" y="262.30" font-size="7.6" text-anchor="end" font-weight="bold" fill="#000" stroke="#000" stroke-width="0.342" transform="rotate(-45 179.20 262.30)" font-style="italic" >CDH2</text>
<line x1="198.50" y1="233.65" x2="198.50" y2="233.24" stroke="#000" stroke-width="1.0" />
<line x1="196.80" y1="233.50" x2="199.80" y2="233.50" stroke="#000" stroke-width="1.0" />
<rect x="195.50" y="233.65" width="5.60" height="20.45" fill="#fff"/>
<rect x="195.50" y="233.65" width="5.60" height="20.45" fill="#fff" stroke="#111" stroke-width="1.05"/>
<line x1="203.50" y1="207.47" x2="203.50" y2="207.06" stroke="#000" stroke-width="1.0" />
<line x1="202.40" y1="207.50" x2="205.40" y2="207.50" stroke="#000" stroke-width="1.0" />
<rect x="201.10" y="207.47" width="5.60" height="46.63" fill="#fff"/>
<rect x="201.10" y="207.47" width="5.60" height="46.63" fill="url(#phs)" stroke="#111" stroke-width="1.05"/>
<line x1="209.50" y1="244.28" x2="209.50" y2="243.47" stroke="#000" stroke-width="1.0" />
<line x1="208.00" y1="243.50" x2="211.00" y2="243.50" stroke="#000" stroke-width="1.0" />
<rect x="206.70" y="244.28" width="5.60" height="9.82" fill="#fff"/>
<rect x="206.70" y="244.28" width="5.60" height="9.82" fill="url(#pcs)" stroke="#111" stroke-width="1.05"/>
<line x1="215.50" y1="234.06" x2="215.50" y2="229.56" stroke="#000" stroke-width="1.0" />
<line x1="213.60" y1="229.50" x2="216.60" y2="229.50" stroke="#000" stroke-width="1.0" />
<rect x="212.30" y="234.06" width="5.60" height="20.04" fill="#fff"/>
<rect x="212.30" y="234.06" width="5.60" height="20.04" fill="url(#pds)" stroke="#111" stroke-width="1.05"/>
<line x1="206.50" y1="254.10" x2="206.50" y2="256.90" stroke="#000" stroke-width="1.3" />
<text x="208.50" y="262.30" font-size="7.6" text-anchor="end" font-weight="bold" fill="#000" stroke="#000" stroke-width="0.342" transform="rotate(-45 208.50 262.30)" font-style="italic" >MMP2</text>
<line x1="227.50" y1="233.65" x2="227.50" y2="233.24" stroke="#000" stroke-width="1.0" />
<line x1="226.10" y1="233.50" x2="229.10" y2="233.50" stroke="#000" stroke-width="1.0" />
<rect x="224.80" y="233.65" width="5.60" height="20.45" fill="#fff"/>
<rect x="224.80" y="233.65" width="5.60" height="20.45" fill="#fff" stroke="#111" stroke-width="1.05"/>
<line x1="233.50" y1="216.27" x2="233.50" y2="213.20" stroke="#000" stroke-width="1.0" />
<line x1="231.70" y1="213.50" x2="234.70" y2="213.50" stroke="#000" stroke-width="1.0" />
<rect x="230.40" y="216.27" width="5.60" height="37.83" fill="#fff"/>
<rect x="230.40" y="216.27" width="5.60" height="37.83" fill="url(#phs)" stroke="#111" stroke-width="1.05"/>
<line x1="238.50" y1="243.88" x2="238.50" y2="242.85" stroke="#000" stroke-width="1.0" />
<line x1="237.30" y1="242.50" x2="240.30" y2="242.50" stroke="#000" stroke-width="1.0" />
<rect x="236.00" y="243.88" width="5.60" height="10.22" fill="#fff"/>
<rect x="236.00" y="243.88" width="5.60" height="10.22" fill="url(#pcs)" stroke="#111" stroke-width="1.05"/>
<line x1="244.50" y1="229.56" x2="244.50" y2="228.54" stroke="#000" stroke-width="1.0" />
<line x1="242.90" y1="228.50" x2="245.90" y2="228.50" stroke="#000" stroke-width="1.0" />
<rect x="241.60" y="229.56" width="5.60" height="24.54" fill="#fff"/>
<rect x="241.60" y="229.56" width="5.60" height="24.54" fill="url(#pds)" stroke="#111" stroke-width="1.05"/>
<line x1="236.50" y1="254.10" x2="236.50" y2="256.90" stroke="#000" stroke-width="1.3" />
<text x="237.80" y="262.30" font-size="7.6" text-anchor="end" font-weight="bold" fill="#000" stroke="#000" stroke-width="0.342" transform="rotate(-45 237.80 262.30)" font-style="italic" >MMP9</text>
<rect x="52.8" y="151.3" width="10.6" height="4.6" rx="1.2" fill="#fff"/>
<rect x="52.8" y="151.3" width="10.8" height="4.6" rx="1.3" fill="#fff" stroke="#111" stroke-width="1.4"/>
<text x="65.50" y="156.20" font-size="7.0" text-anchor="start" font-weight="bold" fill="#000" stroke="#000" stroke-width="0.315" >Vector</text>
<rect x="52.8" y="159.4" width="10.6" height="4.6" rx="1.2" fill="#fff"/>
<rect x="52.8" y="159.4" width="10.8" height="4.6" rx="1.3" fill="url(#phs)" stroke="#111" stroke-width="1.4"/>
<text x="65.50" y="164.20" font-size="7.0" text-anchor="start" font-weight="bold" fill="#000" stroke="#000" stroke-width="0.315" >FEZF1-AS1</text>
<rect x="108.8" y="151.3" width="10.6" height="4.6" rx="1.2" fill="#fff"/>
<rect x="108.8" y="151.3" width="10.8" height="4.6" rx="1.3" fill="url(#pcs)" stroke="#111" stroke-width="1.4"/>
<text x="123.00" y="156.20" font-size="7.25" text-anchor="start" font-weight="bold" fill="#000" stroke="#000" stroke-width="0.315" textLength="55.00" lengthAdjust="spacingAndGlyphs" >Vector+si-PKM2</text>
<rect x="108.8" y="159.4" width="10.6" height="4.6" rx="1.2" fill="#fff"/>
<rect x="108.8" y="159.4" width="10.8" height="4.6" rx="1.3" fill="url(#pdl)" stroke="#111" stroke-width="1.4"/>
<text x="123.00" y="164.20" font-size="7.03" text-anchor="start" font-weight="bold" fill="#000" stroke="#000" stroke-width="0.315" textLength="69.30" lengthAdjust="spacingAndGlyphs" >FEZF1-AS1+si-PKM2</text>
<text x="21.90" y="201.50" font-size="7.8" text-anchor="middle" font-weight="bold" fill="#000" stroke="#000" stroke-width="0.328" transform="rotate(-90 21.90 201.50)" textLength="99.00" lengthAdjust="spacingAndGlyphs" >Relative mRNA expression</text>
<text x="32.30" y="201.50" font-size="7.84" text-anchor="middle" font-weight="bold" fill="#000" stroke="#000" stroke-width="0.328" transform="rotate(-90 32.30 201.50)" textLength="82.00" lengthAdjust="spacingAndGlyphs" >of STAT3 target genes</text>
<line x1="311.50" y1="133.18" x2="311.50" y2="228.25" stroke="#000" stroke-width="1.4" />
<line x1="311.10" y1="227.50" x2="388.60" y2="227.50" stroke="#000" stroke-width="1.4" />
<line x1="308.80" y1="227.50" x2="311.80" y2="227.50" stroke="#000" stroke-width="1.3" />
<text x="308.00" y="230.19" font-size="7.2" text-anchor="end" font-weight="bold" fill="#000" stroke="#000" stroke-width="0.324" >0</text>
<line x1="308.80" y1="196.50" x2="311.80" y2="196.50" stroke="#000" stroke-width="1.3" />
<text x="308.00" y="198.92" font-size="7.2" text-anchor="end" font-weight="bold" fill="#000" stroke="#000" stroke-width="0.324" >50</text>
<line x1="308.80" y1="165.50" x2="311.80" y2="165.50" stroke="#000" stroke-width="1.3" />
<text x="308.00" y="167.64" font-size="7.2" text-anchor="end" font-weight="bold" fill="#000" stroke="#000" stroke-width="0.324" >100</text>
<line x1="308.80" y1="133.50" x2="311.80" y2="133.50" stroke="#000" stroke-width="1.3" />
<text x="308.00" y="136.37" font-size="7.2" text-anchor="end" font-weight="bold" fill="#000" stroke="#000" stroke-width="0.324" >150</text>
<line x1="321.50" y1="180.37" x2="321.50" y2="176.00" stroke="#000" stroke-width="1.3" />
<line x1="319.10" y1="175.50" x2="323.90" y2="175.50" stroke="#000" stroke-width="1.3" />
<rect x="316.55" y="180.37" width="9.90" height="47.23" fill="#fff"/>
<rect x="316.55" y="180.37" width="9.90" height="47.23" fill="#fff" stroke="#111" stroke-width="1.35"/>
<line x1="321.50" y1="227.60" x2="321.50" y2="230.40" stroke="#000" stroke-width="1.3" />
<line x1="340.50" y1="160.98" x2="340.50" y2="151.29" stroke="#000" stroke-width="1.3" />
<line x1="338.10" y1="151.50" x2="342.90" y2="151.50" stroke="#000" stroke-width="1.3" />
<rect x="335.55" y="160.98" width="9.90" height="66.62" fill="#fff"/>
<rect x="335.55" y="160.98" width="9.90" height="66.62" fill="url(#ph)" stroke="#111" stroke-width="1.35"/>
<line x1="340.50" y1="227.60" x2="340.50" y2="230.40" stroke="#000" stroke-width="1.3" />
<line x1="359.50" y1="196.64" x2="359.50" y2="195.39" stroke="#000" stroke-width="1.3" />
<line x1="357.10" y1="195.50" x2="361.90" y2="195.50" stroke="#000" stroke-width="1.3" />
<rect x="354.55" y="196.64" width="9.90" height="30.96" fill="#fff"/>
<rect x="354.55" y="196.64" width="9.90" height="30.96" fill="url(#pc)" stroke="#111" stroke-width="1.35"/>
<line x1="359.50" y1="227.60" x2="359.50" y2="230.40" stroke="#000" stroke-width="1.3" />
<line x1="378.50" y1="185.57" x2="378.50" y2="182.56" stroke="#000" stroke-width="1.3" />
<line x1="375.90" y1="182.50" x2="380.70" y2="182.50" stroke="#000" stroke-width="1.3" />
<rect x="373.35" y="185.57" width="9.90" height="42.03" fill="#fff"/>
<rect x="373.35" y="185.57" width="9.90" height="42.03" fill="url(#pdD)" stroke="#111" stroke-width="1.35"/>
<line x1="378.50" y1="227.60" x2="378.50" y2="230.40" stroke="#000" stroke-width="1.3" />
<text x="353.70" y="123.30" font-size="7.9" text-anchor="middle" font-weight="bold" fill="#000" stroke="#000" stroke-width="0.355" >HCT116</text>
<line x1="321.30" y1="132.50" x2="379.40" y2="132.50" stroke="#000" stroke-width="1.3" />
<text x="350.35" y="135.06" font-size="8.6" text-anchor="middle" font-weight="bold" fill="#000" stroke="#000" stroke-width="0.22" >*</text>
<line x1="321.30" y1="140.50" x2="360.30" y2="140.50" stroke="#000" stroke-width="1.3" />
<text x="340.80" y="143.16" font-size="8.6" text-anchor="middle" font-weight="bold" fill="#000" stroke="#000" stroke-width="0.22" >*</text>
<line x1="321.30" y1="148.50" x2="341.20" y2="148.50" stroke="#000" stroke-width="1.3" />
<text x="332.60" y="151.26" font-size="8.6" text-anchor="middle" font-weight="bold" fill="#000" stroke="#000" stroke-width="0.22" >*</text>
<line x1="357.80" y1="180.50" x2="379.40" y2="180.50" stroke="#000" stroke-width="1.3" />
<text x="368.60" y="182.76" font-size="8.6" text-anchor="middle" font-weight="bold" fill="#000" stroke="#000" stroke-width="0.22" >*</text>
<text x="281.90" y="180.90" font-size="7.58" text-anchor="middle" font-weight="bold" fill="#000" stroke="#000" stroke-width="0.346" transform="rotate(-90 281.90 180.90)" textLength="86.00" lengthAdjust="spacingAndGlyphs" >Pyruvate kinase activity</text>
<text x="293.10" y="180.90" font-size="7.7" text-anchor="middle" font-weight="bold" fill="#000" stroke="#000" stroke-width="0.346" transform="rotate(-90 293.10 180.90)" textLength="49.60" lengthAdjust="spacingAndGlyphs" >(mU/10<tspan baseline-shift="super" font-size="5.2">4</tspan> cells)</text>
<text x="311.60" y="238.76" font-size="7.1" text-anchor="end" font-weight="bold" fill="#000" stroke="#000" stroke-width="0.319" >Vector</text>
<text x="321.50" y="239.16" font-size="8.4" text-anchor="middle" font-weight="bold" fill="#000" stroke="#000" stroke-width="0.2" >+</text>
<text x="340.50" y="238.49" font-size="7.6" text-anchor="middle" font-weight="bold" fill="#000" stroke="#000" stroke-width="0.15" >-</text>
<text x="359.50" y="239.16" font-size="8.4" text-anchor="middle" font-weight="bold" fill="#000" stroke="#000" stroke-width="0.2" >+</text>
<text x="378.30" y="238.49" font-size="7.6" text-anchor="middle" font-weight="bold" fill="#000" stroke="#000" stroke-width="0.15" >-</text>
<text x="311.60" y="247.76" font-size="7.1" text-anchor="end" font-weight="bold" fill="#000" stroke="#000" stroke-width="0.319" >si-NC</text>
<text x="321.50" y="248.16" font-size="8.4" text-anchor="middle" font-weight="bold" fill="#000" stroke="#000" stroke-width="0.2" >+</text>
<text x="340.50" y="248.16" font-size="8.4" text-anchor="middle" font-weight="bold" fill="#000" stroke="#000" stroke-width="0.2" >+</text>
<text x="359.50" y="247.49" font-size="7.6" text-anchor="middle" font-weight="bold" fill="#000" stroke="#000" stroke-width="0.15" >-</text>
<text x="378.30" y="247.49" font-size="7.6" text-anchor="middle" font-weight="bold" fill="#000" stroke="#000" stroke-width="0.15" >-</text>
<text x="311.60" y="256.46" font-size="7.1" text-anchor="end" font-weight="bold" fill="#000" stroke="#000" stroke-width="0.319" >FEZF1-AS1</text>
<text x="321.50" y="256.19" font-size="7.6" text-anchor="middle" font-weight="bold" fill="#000" stroke="#000" stroke-width="0.15" >-</text>
<text x="340.50" y="256.86" font-size="8.4" text-anchor="middle" font-weight="bold" fill="#000" stroke="#000" stroke-width="0.2" >+</text>
<text x="359.50" y="256.19" font-size="7.6" text-anchor="middle" font-weight="bold" fill="#000" stroke="#000" stroke-width="0.15" >-</text>
<text x="378.30" y="256.86" font-size="8.4" text-anchor="middle" font-weight="bold" fill="#000" stroke="#000" stroke-width="0.2" >+</text>
<text x="311.60" y="265.26" font-size="7.1" text-anchor="end" font-weight="bold" fill="#000" stroke="#000" stroke-width="0.319" >si-PKM2</text>
<text x="321.50" y="264.99" font-size="7.6" text-anchor="middle" font-weight="bold" fill="#000" stroke="#000" stroke-width="0.15" >-</text>
<text x="340.50" y="264.99" font-size="7.6" text-anchor="middle" font-weight="bold" fill="#000" stroke="#000" stroke-width="0.15" >-</text>
<text x="359.50" y="265.66" font-size="8.4" text-anchor="middle" font-weight="bold" fill="#000" stroke="#000" stroke-width="0.2" >+</text>
<text x="378.30" y="265.66" font-size="8.4" text-anchor="middle" font-weight="bold" fill="#000" stroke="#000" stroke-width="0.2" >+</text>
<line x1="440.50" y1="131.00" x2="440.50" y2="228.25" stroke="#000" stroke-width="1.4" />
<line x1="440.30" y1="227.50" x2="517.00" y2="227.50" stroke="#000" stroke-width="1.4" />
<line x1="438.00" y1="227.50" x2="441.00" y2="227.50" stroke="#000" stroke-width="1.3" />
<text x="437.20" y="230.19" font-size="7.2" text-anchor="end" font-weight="bold" fill="#000" stroke="#000" stroke-width="0.324" >0</text>
<line x1="438.00" y1="203.50" x2="441.00" y2="203.50" stroke="#000" stroke-width="1.3" />
<text x="437.20" y="206.19" font-size="7.2" text-anchor="end" font-weight="bold" fill="#000" stroke="#000" stroke-width="0.324" >50</text>
<line x1="438.00" y1="179.50" x2="441.00" y2="179.50" stroke="#000" stroke-width="1.3" />
<text x="437.20" y="182.19" font-size="7.2" text-anchor="end" font-weight="bold" fill="#000" stroke="#000" stroke-width="0.324" >100</text>
<line x1="438.00" y1="155.50" x2="441.00" y2="155.50" stroke="#000" stroke-width="1.3" />
<text x="437.20" y="158.19" font-size="7.2" text-anchor="end" font-weight="bold" fill="#000" stroke="#000" stroke-width="0.324" >150</text>
<line x1="438.00" y1="131.50" x2="441.00" y2="131.50" stroke="#000" stroke-width="1.3" />
<text x="437.20" y="134.19" font-size="7.2" text-anchor="end" font-weight="bold" fill="#000" stroke="#000" stroke-width="0.324" >200</text>
<line x1="451.50" y1="178.64" x2="451.50" y2="177.92" stroke="#000" stroke-width="1.3" />
<line x1="448.90" y1="177.50" x2="453.70" y2="177.50" stroke="#000" stroke-width="1.3" />
<rect x="446.35" y="178.64" width="9.90" height="48.96" fill="#fff"/>
<rect x="446.35" y="178.64" width="9.90" height="48.96" fill="#fff" stroke="#111" stroke-width="1.35"/>
<line x1="451.50" y1="227.60" x2="451.50" y2="230.40" stroke="#000" stroke-width="1.3" />
<line x1="470.50" y1="194.48" x2="470.50" y2="188.72" stroke="#000" stroke-width="1.3" />
<line x1="467.80" y1="188.50" x2="472.60" y2="188.50" stroke="#000" stroke-width="1.3" />
<rect x="465.25" y="194.48" width="9.90" height="33.12" fill="#fff"/>
<rect x="465.25" y="194.48" width="9.90" height="33.12" fill="url(#ph)" stroke="#111" stroke-width="1.35"/>
<line x1="470.50" y1="227.60" x2="470.50" y2="230.40" stroke="#000" stroke-width="1.3" />
<line x1="488.50" y1="148.40" x2="488.50" y2="140.72" stroke="#000" stroke-width="1.3" />
<line x1="486.60" y1="140.50" x2="491.40" y2="140.50" stroke="#000" stroke-width="1.3" />
<rect x="484.05" y="148.40" width="9.90" height="79.20" fill="#fff"/>
<rect x="484.05" y="148.40" width="9.90" height="79.20" fill="url(#pc)" stroke="#111" stroke-width="1.35"/>
<line x1="488.50" y1="227.60" x2="488.50" y2="230.40" stroke="#000" stroke-width="1.3" />
<line x1="508.50" y1="172.40" x2="508.50" y2="171.68" stroke="#000" stroke-width="1.3" />
<line x1="505.60" y1="171.50" x2="510.40" y2="171.50" stroke="#000" stroke-width="1.3" />
<rect x="503.05" y="172.40" width="9.90" height="55.20" fill="#fff"/>
<rect x="503.05" y="172.40" width="9.90" height="55.20" fill="url(#pdD)" stroke="#111" stroke-width="1.35"/>
<line x1="508.50" y1="227.60" x2="508.50" y2="230.40" stroke="#000" stroke-width="1.3" />
<text x="484.00" y="122.00" font-size="7.6" text-anchor="middle" font-weight="bold" fill="#000" stroke="#000" stroke-width="0.342" >HCT116</text>
<line x1="451.70" y1="129.50" x2="508.80" y2="129.50" stroke="#000" stroke-width="1.3" />
<text x="481.00" y="132.26" font-size="8.6" text-anchor="middle" font-weight="bold" fill="#000" stroke="#000" stroke-width="0.22" >*</text>
<line x1="451.70" y1="138.50" x2="486.50" y2="138.50" stroke="#000" stroke-width="1.3" />
<line x1="488.50" y1="138.50" x2="508.80" y2="138.50" stroke="#000" stroke-width="1.3" />
<text x="470.40" y="140.76" font-size="8.6" text-anchor="middle" font-weight="bold" fill="#000" stroke="#000" stroke-width="0.22" >*</text>
<text x="500.40" y="140.76" font-size="8.6" text-anchor="middle" font-weight="bold" fill="#000" stroke="#000" stroke-width="0.22" >*</text>
<line x1="451.70" y1="174.50" x2="471.00" y2="174.50" stroke="#000" stroke-width="1.3" />
<text x="462.70" y="176.66" font-size="8.6" text-anchor="middle" font-weight="bold" fill="#000" stroke="#000" stroke-width="0.22" >*</text>
<text x="410.20" y="180.90" font-size="7.58" text-anchor="middle" font-weight="bold" fill="#000" stroke="#000" stroke-width="0.346" transform="rotate(-90 410.20 180.90)" textLength="86.00" lengthAdjust="spacingAndGlyphs" >Pyruvate kinase activity</text>
<text x="421.40" y="180.90" font-size="7.7" text-anchor="middle" font-weight="bold" fill="#000" stroke="#000" stroke-width="0.346" transform="rotate(-90 421.40 180.90)" textLength="49.60" lengthAdjust="spacingAndGlyphs" >(mU/10<tspan baseline-shift="super" font-size="5.2">4</tspan> cells)</text>
<text x="442.80" y="238.56" font-size="7.1" text-anchor="end" font-weight="bold" fill="#000" stroke="#000" stroke-width="0.319" >Vector</text>
<text x="451.30" y="238.96" font-size="8.4" text-anchor="middle" font-weight="bold" fill="#000" stroke="#000" stroke-width="0.2" >+</text>
<text x="470.20" y="238.96" font-size="8.4" text-anchor="middle" font-weight="bold" fill="#000" stroke="#000" stroke-width="0.2" >+</text>
<text x="489.00" y="238.29" font-size="7.6" text-anchor="middle" font-weight="bold" fill="#000" stroke="#000" stroke-width="0.15" >-</text>
<text x="508.00" y="238.29" font-size="7.6" text-anchor="middle" font-weight="bold" fill="#000" stroke="#000" stroke-width="0.15" >-</text>
<text x="442.80" y="247.46" font-size="7.1" text-anchor="end" font-weight="bold" fill="#000" stroke="#000" stroke-width="0.319" >si-NC</text>
<text x="451.30" y="247.86" font-size="8.4" text-anchor="middle" font-weight="bold" fill="#000" stroke="#000" stroke-width="0.2" >+</text>
<text x="470.20" y="247.19" font-size="7.6" text-anchor="middle" font-weight="bold" fill="#000" stroke="#000" stroke-width="0.15" >-</text>
<text x="489.00" y="247.86" font-size="8.4" text-anchor="middle" font-weight="bold" fill="#000" stroke="#000" stroke-width="0.2" >+</text>
<text x="508.00" y="247.19" font-size="7.6" text-anchor="middle" font-weight="bold" fill="#000" stroke="#000" stroke-width="0.15" >-</text>
<text x="442.80" y="256.26" font-size="7.1" text-anchor="end" font-weight="bold" fill="#000" stroke="#000" stroke-width="0.319" >si-FEZF1-AS1</text>
<text x="451.30" y="255.99" font-size="7.6" text-anchor="middle" font-weight="bold" fill="#000" stroke="#000" stroke-width="0.15" >-</text>
<text x="470.20" y="256.66" font-size="8.4" text-anchor="middle" font-weight="bold" fill="#000" stroke="#000" stroke-width="0.2" >+</text>
<text x="489.00" y="255.99" font-size="7.6" text-anchor="middle" font-weight="bold" fill="#000" stroke="#000" stroke-width="0.15" >-</text>
<text x="508.00" y="256.66" font-size="8.4" text-anchor="middle" font-weight="bold" fill="#000" stroke="#000" stroke-width="0.2" >+</text>
<text x="442.80" y="265.06" font-size="7.1" text-anchor="end" font-weight="bold" fill="#000" stroke="#000" stroke-width="0.319" >PKM2</text>
<text x="451.30" y="264.79" font-size="7.6" text-anchor="middle" font-weight="bold" fill="#000" stroke="#000" stroke-width="0.15" >-</text>
<text x="470.20" y="264.79" font-size="7.6" text-anchor="middle" font-weight="bold" fill="#000" stroke="#000" stroke-width="0.15" >-</text>
<text x="489.00" y="265.46" font-size="8.4" text-anchor="middle" font-weight="bold" fill="#000" stroke="#000" stroke-width="0.2" >+</text>
<text x="508.00" y="265.46" font-size="8.4" text-anchor="middle" font-weight="bold" fill="#000" stroke="#000" stroke-width="0.2" >+</text>
<line x1="46.50" y1="316.30" x2="46.50" y2="410.85" stroke="#000" stroke-width="1.4" />
<line x1="45.50" y1="410.50" x2="122.50" y2="410.50" stroke="#000" stroke-width="1.4" />
<line x1="43.20" y1="410.50" x2="46.20" y2="410.50" stroke="#000" stroke-width="1.3" />
<text x="42.40" y="412.79" font-size="7.2" text-anchor="end" font-weight="bold" fill="#000" stroke="#000" stroke-width="0.324" >0</text>
<line x1="43.20" y1="379.50" x2="46.20" y2="379.50" stroke="#000" stroke-width="1.3" />
<text x="42.40" y="381.69" font-size="7.2" text-anchor="end" font-weight="bold" fill="#000" stroke="#000" stroke-width="0.324" >10</text>
<line x1="43.20" y1="348.50" x2="46.20" y2="348.50" stroke="#000" stroke-width="1.3" />
<text x="42.40" y="350.59" font-size="7.2" text-anchor="end" font-weight="bold" fill="#000" stroke="#000" stroke-width="0.324" >20</text>
<line x1="43.20" y1="316.50" x2="46.20" y2="316.50" stroke="#000" stroke-width="1.3" />
<text x="42.40" y="319.49" font-size="7.2" text-anchor="end" font-weight="bold" fill="#000" stroke="#000" stroke-width="0.324" >30</text>
<line x1="56.50" y1="355.46" x2="56.50" y2="351.73" stroke="#000" stroke-width="1.3" />
<line x1="53.60" y1="351.50" x2="58.40" y2="351.50" stroke="#000" stroke-width="1.3" />
<rect x="51.05" y="355.46" width="9.90" height="54.74" fill="#fff"/>
<rect x="51.05" y="355.46" width="9.90" height="54.74" fill="#fff" stroke="#111" stroke-width="1.35"/>
<line x1="56.50" y1="410.20" x2="56.50" y2="413.00" stroke="#000" stroke-width="1.3" />
<line x1="75.50" y1="337.74" x2="75.50" y2="334.94" stroke="#000" stroke-width="1.3" />
<line x1="73.00" y1="334.50" x2="77.80" y2="334.50" stroke="#000" stroke-width="1.3" />
<rect x="70.45" y="337.74" width="9.90" height="72.46" fill="#fff"/>
<rect x="70.45" y="337.74" width="9.90" height="72.46" fill="url(#ph)" stroke="#111" stroke-width="1.35"/>
<line x1="75.50" y1="410.20" x2="75.50" y2="413.00" stroke="#000" stroke-width="1.3" />
<line x1="94.50" y1="373.81" x2="94.50" y2="372.26" stroke="#000" stroke-width="1.3" />
<line x1="92.20" y1="372.50" x2="97.00" y2="372.50" stroke="#000" stroke-width="1.3" />
<rect x="89.65" y="373.81" width="9.90" height="36.39" fill="#fff"/>
<rect x="89.65" y="373.81" width="9.90" height="36.39" fill="url(#pc)" stroke="#111" stroke-width="1.35"/>
<line x1="94.50" y1="410.20" x2="94.50" y2="413.00" stroke="#000" stroke-width="1.3" />
<line x1="113.50" y1="362.00" x2="113.50" y2="359.51" stroke="#000" stroke-width="1.3" />
<line x1="111.20" y1="359.50" x2="116.00" y2="359.50" stroke="#000" stroke-width="1.3" />
<rect x="108.65" y="362.00" width="9.90" height="48.20" fill="#fff"/>
<rect x="108.65" y="362.00" width="9.90" height="48.20" fill="url(#pdE)" stroke="#111" stroke-width="1.35"/>
<line x1="113.50" y1="410.20" x2="113.50" y2="413.00" stroke="#000" stroke-width="1.3" />
<text x="84.40" y="305.20" font-size="7.6" text-anchor="middle" font-weight="bold" fill="#000" stroke="#000" stroke-width="0.342" >HCT116</text>
<line x1="55.60" y1="318.50" x2="113.00" y2="318.50" stroke="#000" stroke-width="1.3" />
<text x="84.30" y="316.70" font-size="7.4" text-anchor="middle" font-weight="bold" fill="#000" stroke="#000" stroke-width="0.333" >n.s.</text>
<line x1="55.60" y1="325.50" x2="93.00" y2="325.50" stroke="#000" stroke-width="1.3" />
<text x="74.30" y="328.06" font-size="8.6" text-anchor="middle" font-weight="bold" fill="#000" stroke="#000" stroke-width="0.22" >*</text>
<line x1="55.60" y1="332.50" x2="75.40" y2="332.50" stroke="#000" stroke-width="1.3" />
<text x="65.50" y="335.16" font-size="8.6" text-anchor="middle" font-weight="bold" fill="#000" stroke="#000" stroke-width="0.22" >*</text>
<line x1="93.50" y1="357.50" x2="114.00" y2="357.50" stroke="#000" stroke-width="1.3" />
<text x="101.60" y="360.16" font-size="8.6" text-anchor="middle" font-weight="bold" fill="#000" stroke="#000" stroke-width="0.22" >*</text>
<text x="107.60" y="360.16" font-size="8.6" text-anchor="middle" font-weight="bold" fill="#000" stroke="#000" stroke-width="0.22" >*</text>
<text x="18.00" y="359.30" font-size="8.0" text-anchor="middle" font-weight="bold" fill="#000" stroke="#000" stroke-width="0.346" transform="rotate(-90 18.00 359.30)" textLength="72.00" lengthAdjust="spacingAndGlyphs" >Lactate production</text>
<text x="29.20" y="359.30" font-size="7.7" text-anchor="middle" font-weight="bold" fill="#000" stroke="#000" stroke-width="0.346" transform="rotate(-90 29.20 359.30)" textLength="57.30" lengthAdjust="spacingAndGlyphs" >(nmol/10<tspan baseline-shift="super" font-size="5.2">4</tspan> cells)</text>
<text x="46.70" y="421.76" font-size="7.1" text-anchor="end" font-weight="bold" fill="#000" stroke="#000" stroke-width="0.319" >Vector</text>
<text x="56.00" y="422.16" font-size="8.4" text-anchor="middle" font-weight="bold" fill="#000" stroke="#000" stroke-width="0.2" >+</text>
<text x="75.40" y="421.49" font-size="7.6" text-anchor="middle" font-weight="bold" fill="#000" stroke="#000" stroke-width="0.15" >-</text>
<text x="94.60" y="422.16" font-size="8.4" text-anchor="middle" font-weight="bold" fill="#000" stroke="#000" stroke-width="0.2" >+</text>
<text x="113.60" y="421.49" font-size="7.6" text-anchor="middle" font-weight="bold" fill="#000" stroke="#000" stroke-width="0.15" >-</text>
<text x="46.70" y="430.36" font-size="7.1" text-anchor="end" font-weight="bold" fill="#000" stroke="#000" stroke-width="0.319" >si-NC</text>
<text x="56.00" y="430.76" font-size="8.4" text-anchor="middle" font-weight="bold" fill="#000" stroke="#000" stroke-width="0.2" >+</text>
<text x="75.40" y="430.76" font-size="8.4" text-anchor="middle" font-weight="bold" fill="#000" stroke="#000" stroke-width="0.2" >+</text>
<text x="94.60" y="430.09" font-size="7.6" text-anchor="middle" font-weight="bold" fill="#000" stroke="#000" stroke-width="0.15" >-</text>
<text x="113.60" y="430.09" font-size="7.6" text-anchor="middle" font-weight="bold" fill="#000" stroke="#000" stroke-width="0.15" >-</text>
<text x="46.70" y="439.36" font-size="7.1" text-anchor="end" font-weight="bold" fill="#000" stroke="#000" stroke-width="0.319" >FEZF1-AS1</text>
<text x="56.00" y="439.09" font-size="7.6" text-anchor="middle" font-weight="bold" fill="#000" stroke="#000" stroke-width="0.15" >-</text>
<text x="75.40" y="439.76" font-size="8.4" text-anchor="middle" font-weight="bold" fill="#000" stroke="#000" stroke-width="0.2" >+</text>
<text x="94.60" y="439.09" font-size="7.6" text-anchor="middle" font-weight="bold" fill="#000" stroke="#000" stroke-width="0.15" >-</text>
<text x="113.60" y="439.76" font-size="8.4" text-anchor="middle" font-weight="bold" fill="#000" stroke="#000" stroke-width="0.2" >+</text>
<text x="46.70" y="448.46" font-size="7.1" text-anchor="end" font-weight="bold" fill="#000" stroke="#000" stroke-width="0.319" >si-PKM2</text>
<text x="56.00" y="448.19" font-size="7.6" text-anchor="middle" font-weight="bold" fill="#000" stroke="#000" stroke-width="0.15" >-</text>
<text x="75.40" y="448.19" font-size="7.6" text-anchor="middle" font-weight="bold" fill="#000" stroke="#000" stroke-width="0.15" >-</text>
<text x="94.60" y="448.86" font-size="8.4" text-anchor="middle" font-weight="bold" fill="#000" stroke="#000" stroke-width="0.2" >+</text>
<text x="113.60" y="448.86" font-size="8.4" text-anchor="middle" font-weight="bold" fill="#000" stroke="#000" stroke-width="0.2" >+</text>
<line x1="174.50" y1="314.70" x2="174.50" y2="411.05" stroke="#000" stroke-width="1.4" />
<line x1="174.30" y1="410.50" x2="252.20" y2="410.50" stroke="#000" stroke-width="1.4" />
<line x1="172.00" y1="410.50" x2="175.00" y2="410.50" stroke="#000" stroke-width="1.3" />
<text x="171.20" y="412.99" font-size="7.2" text-anchor="end" font-weight="bold" fill="#000" stroke="#000" stroke-width="0.324" >0</text>
<line x1="172.00" y1="378.50" x2="175.00" y2="378.50" stroke="#000" stroke-width="1.3" />
<text x="171.20" y="381.29" font-size="7.2" text-anchor="end" font-weight="bold" fill="#000" stroke="#000" stroke-width="0.324" >10</text>
<line x1="172.00" y1="346.50" x2="175.00" y2="346.50" stroke="#000" stroke-width="1.3" />
<text x="171.20" y="349.59" font-size="7.2" text-anchor="end" font-weight="bold" fill="#000" stroke="#000" stroke-width="0.324" >20</text>
<line x1="172.00" y1="315.50" x2="175.00" y2="315.50" stroke="#000" stroke-width="1.3" />
<text x="171.20" y="317.89" font-size="7.2" text-anchor="end" font-weight="bold" fill="#000" stroke="#000" stroke-width="0.324" >30</text>
<line x1="184.50" y1="349.22" x2="184.50" y2="346.68" stroke="#000" stroke-width="1.3" />
<line x1="182.30" y1="346.50" x2="187.10" y2="346.50" stroke="#000" stroke-width="1.3" />
<rect x="179.75" y="349.22" width="9.90" height="61.18" fill="#fff"/>
<rect x="179.75" y="349.22" width="9.90" height="61.18" fill="#fff" stroke="#111" stroke-width="1.35"/>
<line x1="184.50" y1="410.40" x2="184.50" y2="413.20" stroke="#000" stroke-width="1.3" />
<line x1="204.50" y1="372.99" x2="204.50" y2="368.56" stroke="#000" stroke-width="1.3" />
<line x1="201.60" y1="368.50" x2="206.40" y2="368.50" stroke="#000" stroke-width="1.3" />
<rect x="199.05" y="372.99" width="9.90" height="37.41" fill="#fff"/>
<rect x="199.05" y="372.99" width="9.90" height="37.41" fill="url(#ph)" stroke="#111" stroke-width="1.35"/>
<line x1="204.50" y1="410.40" x2="204.50" y2="413.20" stroke="#000" stroke-width="1.3" />
<line x1="223.50" y1="333.69" x2="223.50" y2="330.52" stroke="#000" stroke-width="1.3" />
<line x1="220.70" y1="330.50" x2="225.50" y2="330.50" stroke="#000" stroke-width="1.3" />
<rect x="218.15" y="333.69" width="9.90" height="76.71" fill="#fff"/>
<rect x="218.15" y="333.69" width="9.90" height="76.71" fill="url(#pc)" stroke="#111" stroke-width="1.35"/>
<line x1="223.50" y1="410.40" x2="223.50" y2="413.20" stroke="#000" stroke-width="1.3" />
<line x1="242.50" y1="346.05" x2="242.50" y2="345.41" stroke="#000" stroke-width="1.3" />
<line x1="240.00" y1="345.50" x2="244.80" y2="345.50" stroke="#000" stroke-width="1.3" />
<rect x="237.45" y="346.05" width="9.90" height="64.35" fill="#fff"/>
<rect x="237.45" y="346.05" width="9.90" height="64.35" fill="url(#pdE)" stroke="#111" stroke-width="1.35"/>
<line x1="242.50" y1="410.40" x2="242.50" y2="413.20" stroke="#000" stroke-width="1.3" />
<text x="216.60" y="305.80" font-size="7.6" text-anchor="middle" font-weight="bold" fill="#000" stroke="#000" stroke-width="0.342" >HCT116</text>
<line x1="184.50" y1="318.50" x2="242.00" y2="318.50" stroke="#000" stroke-width="1.3" />
<text x="213.50" y="316.50" font-size="7.4" text-anchor="middle" font-weight="bold" fill="#000" stroke="#000" stroke-width="0.333" >n.s.</text>
<line x1="184.50" y1="327.50" x2="227.20" y2="327.50" stroke="#000" stroke-width="1.3" />
<line x1="229.30" y1="327.50" x2="242.00" y2="327.50" stroke="#000" stroke-width="1.3" />
<text x="203.30" y="329.46" font-size="8.6" text-anchor="middle" font-weight="bold" fill="#000" stroke="#000" stroke-width="0.22" >*</text>
<text x="233.10" y="329.46" font-size="8.6" text-anchor="middle" font-weight="bold" fill="#000" stroke="#000" stroke-width="0.22" >*</text>
<text x="237.40" y="329.46" font-size="8.6" text-anchor="middle" font-weight="bold" fill="#000" stroke="#000" stroke-width="0.22" >*</text>
<line x1="184.50" y1="342.50" x2="204.00" y2="342.50" stroke="#000" stroke-width="1.3" />
<text x="195.50" y="345.36" font-size="8.6" text-anchor="middle" font-weight="bold" fill="#000" stroke="#000" stroke-width="0.22" >*</text>
<text x="147.80" y="359.60" font-size="8.0" text-anchor="middle" font-weight="bold" fill="#000" stroke="#000" stroke-width="0.346" transform="rotate(-90 147.80 359.60)" textLength="72.00" lengthAdjust="spacingAndGlyphs" >Lactate production</text>
<text x="157.80" y="359.60" font-size="7.7" text-anchor="middle" font-weight="bold" fill="#000" stroke="#000" stroke-width="0.346" transform="rotate(-90 157.80 359.60)" textLength="57.30" lengthAdjust="spacingAndGlyphs" >(nmol/10<tspan baseline-shift="super" font-size="5.2">4</tspan> cells)</text>
<text x="176.20" y="420.46" font-size="7.1" text-anchor="end" font-weight="bold" fill="#000" stroke="#000" stroke-width="0.319" >Vector</text>
<text x="184.70" y="420.86" font-size="8.4" text-anchor="middle" font-weight="bold" fill="#000" stroke="#000" stroke-width="0.2" >+</text>
<text x="204.00" y="420.86" font-size="8.4" text-anchor="middle" font-weight="bold" fill="#000" stroke="#000" stroke-width="0.2" >+</text>
<text x="223.10" y="420.19" font-size="7.6" text-anchor="middle" font-weight="bold" fill="#000" stroke="#000" stroke-width="0.15" >-</text>
<text x="242.40" y="420.19" font-size="7.6" text-anchor="middle" font-weight="bold" fill="#000" stroke="#000" stroke-width="0.15" >-</text>
<text x="176.20" y="429.56" font-size="7.1" text-anchor="end" font-weight="bold" fill="#000" stroke="#000" stroke-width="0.319" >si-NC</text>
<text x="184.70" y="429.96" font-size="8.4" text-anchor="middle" font-weight="bold" fill="#000" stroke="#000" stroke-width="0.2" >+</text>
<text x="204.00" y="429.29" font-size="7.6" text-anchor="middle" font-weight="bold" fill="#000" stroke="#000" stroke-width="0.15" >-</text>
<text x="223.10" y="429.96" font-size="8.4" text-anchor="middle" font-weight="bold" fill="#000" stroke="#000" stroke-width="0.2" >+</text>
<text x="242.40" y="429.29" font-size="7.6" text-anchor="middle" font-weight="bold" fill="#000" stroke="#000" stroke-width="0.15" >-</text>
<text x="176.20" y="439.16" font-size="7.1" text-anchor="end" font-weight="bold" fill="#000" stroke="#000" stroke-width="0.319" >si-FEZF1-AS1</text>
<text x="184.70" y="438.89" font-size="7.6" text-anchor="middle" font-weight="bold" fill="#000" stroke="#000" stroke-width="0.15" >-</text>
<text x="204.00" y="439.56" font-size="8.4" text-anchor="middle" font-weight="bold" fill="#000" stroke="#000" stroke-width="0.2" >+</text>
<text x="223.10" y="438.89" font-size="7.6" text-anchor="middle" font-weight="bold" fill="#000" stroke="#000" stroke-width="0.15" >-</text>
<text x="242.40" y="439.56" font-size="8.4" text-anchor="middle" font-weight="bold" fill="#000" stroke="#000" stroke-width="0.2" >+</text>
<text x="176.20" y="448.26" font-size="7.1" text-anchor="end" font-weight="bold" fill="#000" stroke="#000" stroke-width="0.319" >PKM2</text>
<text x="184.70" y="447.99" font-size="7.6" text-anchor="middle" font-weight="bold" fill="#000" stroke="#000" stroke-width="0.15" >-</text>
<text x="204.00" y="447.99" font-size="7.6" text-anchor="middle" font-weight="bold" fill="#000" stroke="#000" stroke-width="0.15" >-</text>
<text x="223.10" y="448.66" font-size="8.4" text-anchor="middle" font-weight="bold" fill="#000" stroke="#000" stroke-width="0.2" >+</text>
<text x="242.40" y="448.66" font-size="8.4" text-anchor="middle" font-weight="bold" fill="#000" stroke="#000" stroke-width="0.2" >+</text>
<rect x="274.2" y="286.6" width="244.3" height="163.9" fill="#fff" stroke="#333" stroke-width="1.1"/>
<g clip-path="url(#fclip)">
<rect x="274.2" y="290.4" width="244.3" height="11" fill="url(#mem)"/>
<path fill-rule="evenodd" fill="#767676" d="M284.95 417.6 a115.0 55.6 0 1 0 230.0 0 a115.0 55.6 0 1 0 -230.0 0 z M296.25 417.9 a103.6 50.6 0 1 0 207.2 0 a103.6 50.6 0 1 0 -207.2 0 z"/>
<g transform="translate(400.0 364.7) rotate(0)">
<path d="M-7.4 -4.0 L7.4 -4.0 Q8.6 -0.8 8.6 0 Q8.6 1.6 11.2 4.0 L-11.2 4.0 Q-8.6 1.6 -8.6 0 Q-8.6 -0.8 -7.4 -4.0 z" fill="#3c3c3c"/>
<path d="M-7.4 -4.0 L-3.33 -4.0 L-6.449999999999999 0.4 L-8.6 0 z" fill="#c4c4c4"/><path d="M7.4 -4.0 L3.33 -4.0 L6.449999999999999 0.4 L8.6 0 z" fill="#cfcfcf"/>
<path d="M-3.33 -4.0 L3.33 -4.0 L3.33 -2.2 L-3.33 -2.2 z" fill="#8c8c8c"/>
</g>
<g transform="translate(324.2 380.7) rotate(-25)">
<path d="M-6.8 -4.1 L6.8 -4.1 Q7.6 -0.82 7.6 0 Q7.6 1.64 10.6 4.1 L-10.6 4.1 Q-7.6 1.64 -7.6 0 Q-7.6 -0.82 -6.8 -4.1 z" fill="#3c3c3c"/>
<path d="M-6.8 -4.1 L-3.06 -4.1 L-5.699999999999999 0.41 L-7.6 0 z" fill="#c4c4c4"/><path d="M6.8 -4.1 L3.06 -4.1 L5.699999999999999 0.41 L7.6 0 z" fill="#cfcfcf"/>
<path d="M-3.06 -4.1 L3.06 -4.1 L3.06 -2.255 L-3.06 -2.255 z" fill="#8c8c8c"/>
</g>
<g transform="translate(476.0 380.2) rotate(25)">
<path d="M-6.8 -4.1 L6.8 -4.1 Q7.6 -0.82 7.6 0 Q7.6 1.64 10.6 4.1 L-10.6 4.1 Q-7.6 1.64 -7.6 0 Q-7.6 -0.82 -6.8 -4.1 z" fill="#3c3c3c"/>
<path d="M-6.8 -4.1 L-3.06 -4.1 L-5.699999999999999 0.41 L-7.6 0 z" fill="#c4c4c4"/><path d="M6.8 -4.1 L3.06 -4.1 L5.699999999999999 0.41 L7.6 0 z" fill="#cfcfcf"/>
<path d="M-3.06 -4.1 L3.06 -4.1 L3.06 -2.255 L-3.06 -2.255 z" fill="#8c8c8c"/>
</g>
<path d="M282.1 411.2 Q284.5 413.4 287 413.3 L294.5 413.3 Q296.5 413.2 297.8 412.4 L297.8 420.4 Q296.5 419.6 294.5 419.5 L287 419.5 Q284.5 419.4 282.1 421.6 Q283.6 416.4 282.1 411.2 z" fill="url(#gpl)"/>
<path d="M289 413.3 L297.8 412.4 L297.8 413.5 L289 414.2 z M289 419.5 L297.8 420.4 L297.8 419.3 L289 418.6 z" fill="#e4e4e4"/>
<path d="M501.8 412.2 Q503.5 413.4 505.5 413.4 L512.5 413.4 Q515 413.3 517.2 411.8 Q516 416.4 517.2 421.0 Q515 419.5 512.5 419.4 L505.5 419.4 Q503.5 419.4 501.8 420.6 z" fill="url(#gpr)"/>
<path d="M509 413.4 L517.2 411.8 L517 413.2 L509 414.3 z M509 419.4 L517.2 421.0 L517 419.6 L509 418.5 z" fill="#e8e8e8"/>
<path d="M317.5 447.6 L323.4 450.4 L319.2 450.4 z" fill="#e8e8e8"/>
</g>
<text x="470.80" y="308.30" font-size="5.95" text-anchor="start" font-weight="bold" fill="#000" stroke="#000" stroke-width="0.288" textLength="30.40" lengthAdjust="spacingAndGlyphs" >Cytoplasm</text>
<text x="414.00" y="387.30" font-size="5.81" text-anchor="start" font-weight="bold" fill="#000" stroke="#000" stroke-width="0.297" textLength="22.60" lengthAdjust="spacingAndGlyphs" >Nucleus</text>
<text x="301.80" y="309.90" font-size="4.39" text-anchor="start" font-weight="bold" fill="#000" stroke="#000" stroke-width="0.234" textLength="23.40" lengthAdjust="spacingAndGlyphs" >FEZF1-AS1</text>
<text x="388.00" y="338.80" font-size="4.59" text-anchor="start" font-weight="bold" fill="#000" stroke="#000" stroke-width="0.225" textLength="26.80" lengthAdjust="spacingAndGlyphs" >Degradation</text>
<text x="278.00" y="353.10" font-size="4.62" text-anchor="start" font-weight="bold" fill="#000" stroke="#000" stroke-width="0.225" textLength="32.40" lengthAdjust="spacingAndGlyphs" >Warburg effect</text>
<text x="276.60" y="372.40" font-size="4.56" text-anchor="start" font-weight="bold" fill="#000" stroke="#000" stroke-width="0.225" textLength="36.20" lengthAdjust="spacingAndGlyphs" >Cell proliferation</text>
<text x="417.00" y="422.20" font-size="4.52" text-anchor="start" font-weight="bold" fill="#000" stroke="#000" stroke-width="0.225" textLength="69.80" lengthAdjust="spacingAndGlyphs" >Cell proliferation and metastasis</text>
<text x="419.80" y="443.70" font-size="4.29" text-anchor="start" font-weight="bold" fill="#000" stroke="#000" stroke-width="0.216" textLength="48.40" lengthAdjust="spacingAndGlyphs" font-style="italic" >MCL1, CCND1, MMP2 ...</text>
<path d="M299.2 321.4 C299.6 317 300.8 315.4 303.4 315.2 L323.2 315.2 C325.8 315.4 326.8 317 327.2 321.4" fill="none" stroke="#8a8a8a" stroke-width="0.7"/>
<path d="M304 313.9 L323 313.9" stroke="#666" stroke-width="0.9" stroke-dasharray="1 1.6" fill="none"/>
<g transform="rotate(6 353.2 312.6)"><ellipse cx="353.2" cy="312.6" rx="8.0" ry="3.9" fill="url(#gmid)" stroke="#555" stroke-width="0.5"/>
<text x="353.2" y="313.90" font-size="3.6" font-weight="bold" text-anchor="middle" fill="#fff">PKM2</text></g>
<path d="M327.0 312.8 C332.0 317 335.8 322 336.0 329 L336.0 334.6" fill="none" stroke="#111" stroke-width="1.6" marker-end="url(#ahb)"/>
<path d="M345.6 313.6 C340.0 317.4 336.4 322.6 336.0 330" fill="none" stroke="#111" stroke-width="1.6"/>
<path d="M362.2 317.6 L371.8 327.8" fill="none" stroke="#111" stroke-width="1.2" stroke-dasharray="1.8 1.2" marker-end="url(#ahb)"/>
<rect x="374.0" y="335.0" width="1.4" height="1.4" fill="#3a3a3a"/>
<rect x="378.8" y="333.2" width="1.4" height="1.4" fill="#3a3a3a"/>
<rect x="382.8" y="334.0" width="1.4" height="1.4" fill="#3a3a3a"/>
<rect x="377.8" y="337.0" width="1.4" height="1.4" fill="#3a3a3a"/>
<rect x="382.8" y="337.2" width="1.4" height="1.4" fill="#3a3a3a"/>
<path d="M323.4 351.4 C324.6 348 327 346.4 330 346.2 M344.4 346.2 C347.6 346.4 350.2 348 351.4 351.4" fill="none" stroke="#666" stroke-width="0.7"/>
<g transform="rotate(0 337.2 346.3)"><ellipse cx="337.2" cy="346.3" rx="7.3" ry="3.5" fill="url(#gmid)" stroke="#555" stroke-width="0.5"/>
<text x="337.2" y="347.60" font-size="3.6" font-weight="bold" text-anchor="middle" fill="#fff">PKM2</text></g>
<path d="M321.6 358.0 L311.2 356.8" fill="none" stroke="#111" stroke-width="1.2" stroke-dasharray="1.7 1.1" marker-end="url(#ah)"/>
<path d="M294.0 356.4 L294.0 365.2" fill="none" stroke="#111" stroke-width="1.2" stroke-dasharray="1.7 1.1" marker-end="url(#ah)"/>
<path d="M327.8 354.8 C325.6 359 324.4 364 324.0 371.6" fill="none" stroke="#111" stroke-width="1.0" marker-end="url(#ah)"/>
<path d="M327.8 354.8 C326.4 357 324.4 358 321.6 358.0" fill="none" stroke="#111" stroke-width="0.8"/>
<path d="M321.6 394.6 C322.2 391.6 324.2 389.4 327.2 389.2 M340.2 388.8 C344.0 389.2 346.4 392.2 347.4 396.6" fill="none" stroke="#666" stroke-width="0.7"/>
<g transform="rotate(0 333.6 390.6)"><ellipse cx="333.6" cy="390.6" rx="6.9" ry="3.5" fill="url(#gmid)" stroke="#555" stroke-width="0.5"/>
<text x="333.6" y="391.90" font-size="3.6" font-weight="bold" text-anchor="middle" fill="#fff">PKM2</text></g>
<path d="M332.6 397.0 L332.6 410.8" fill="none" stroke="#111" stroke-width="1.1" marker-end="url(#ah)"/>
<path d="M353.0 401.0 C343 401.4 334.4 402.4 332.8 407.2" fill="none" stroke="#111" stroke-width="1.1"/>
<g transform="rotate(0 363.8 400.2)"><ellipse cx="363.8" cy="400.2" rx="8.2" ry="4.2" fill="url(#gdark)" stroke="#111" stroke-width="0.5"/>
<text x="363.8" y="401.50" font-size="3.6" font-weight="bold" text-anchor="middle" fill="#fff">STAT3</text></g>
<g transform="rotate(0 324.9 419.6)"><ellipse cx="324.9" cy="419.6" rx="6.8" ry="3.6" fill="url(#gmid)" stroke="#555" stroke-width="0.5"/>
<text x="324.9" y="420.90" font-size="3.6" font-weight="bold" text-anchor="middle" fill="#fff">PKM2</text></g>
<g transform="rotate(0 338.0 418.6)"><ellipse cx="338.0" cy="418.6" rx="8.0" ry="4.2" fill="url(#gdark)" stroke="#111" stroke-width="0.5"/>
<text x="338.0" y="419.90" font-size="3.6" font-weight="bold" text-anchor="middle" fill="#fff">STAT3</text></g>
<path d="M348.6 419.6 L358.4 419.6" fill="none" stroke="#111" stroke-width="1.1" marker-end="url(#ah)"/>
<g transform="rotate(0 371.0 419.8)"><ellipse cx="371.0" cy="419.8" rx="6.8" ry="3.6" fill="url(#gmid)" stroke="#555" stroke-width="0.5"/>
<text x="371.0" y="421.10" font-size="3.6" font-weight="bold" text-anchor="middle" fill="#fff">PKM2</text></g>
<g transform="rotate(0 384.8 419.0)"><ellipse cx="384.8" cy="419.0" rx="8.0" ry="4.2" fill="url(#gdark)" stroke="#111" stroke-width="0.5"/>
<text x="384.8" y="420.30" font-size="3.6" font-weight="bold" text-anchor="middle" fill="#fff">STAT3</text></g>
<circle cx="390.4" cy="414.2" r="2.1" fill="#bbb" stroke="#444" stroke-width="0.4"/>
<text x="390.40" y="415.30" font-size="3.0" text-anchor="middle" font-weight="bold" fill="#000" stroke="#000" stroke-width="0.135" >P</text>
<path d="M378.0 424.4 C378.2 429.6 379.6 432.6 383.0 434.0" fill="none" stroke="#111" stroke-width="1.0" marker-end="url(#ah)"/>
<path d="M405 434 q2.4 -5.6 4.8 0 t4.8 0 t4.8 0 t4.8 0 t4.8 0 t4.8 0" fill="none" stroke="#1a1a1a" stroke-width="1.2"/>
<path d="M405 434 q2.4 5.6 4.8 0 t4.8 0 t4.8 0 t4.8 0 t4.8 0 t4.8 0" fill="none" stroke="#555" stroke-width="1.2"/>
<g transform="rotate(0 395.8 433.6)"><ellipse cx="395.8" cy="433.6" rx="8.0" ry="4.1" fill="url(#gdark)" stroke="#111" stroke-width="0.5"/>
<text x="395.8" y="434.90" font-size="3.6" font-weight="bold" text-anchor="middle" fill="#fff">STAT3</text></g>
<circle cx="401.8" cy="429.0" r="2.1" fill="#bbb" stroke="#444" stroke-width="0.4"/>
<text x="401.80" y="430.10" font-size="3.0" text-anchor="middle" font-weight="bold" fill="#000" stroke="#000" stroke-width="0.135" >P</text>
<path d="M409.2 437.4 C409.6 441 411.4 442.4 415.2 442.6" fill="none" stroke="#111" stroke-width="1.0" marker-end="url(#ah)"/>
<path d="M441.0 437.4 C445.4 435.6 448.2 432.6 449.0 428.4" fill="none" stroke="#111" stroke-width="1.0" marker-end="url(#ah)"/>
</g></svg></body></html>
